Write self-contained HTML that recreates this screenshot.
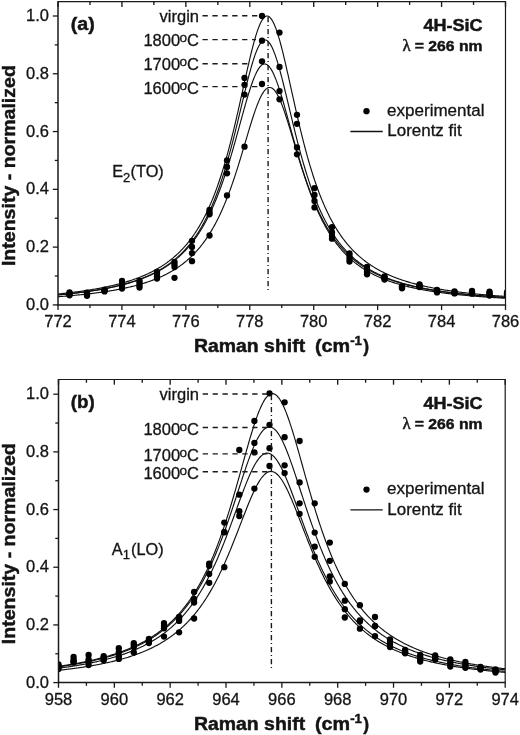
<!DOCTYPE html><html><head><meta charset="utf-8"><style>html,body{margin:0;padding:0;background:#fff;width:520px;height:735px;overflow:hidden}svg{display:block}text{font-family:'Liberation Sans', Arial, Helvetica, sans-serif;fill:#141414}.b{font-weight:bold;stroke:#141414;stroke-width:0.45}.r{stroke:#141414;stroke-width:0.3}</style></head><body>
<svg width="520" height="735" viewBox="0 0 520 735">
<rect width="520" height="735" fill="#fff"/>
<clipPath id="c0"><rect x="58.0" y="1.7" width="447.5" height="303.2"/></clipPath>
<g clip-path="url(#c0)">
<polyline points="58.00,293.98 58.90,293.89 59.79,293.80 60.68,293.70 61.58,293.61 62.47,293.51 63.37,293.42 64.27,293.32 65.16,293.22 66.05,293.12 66.95,293.02 67.84,292.92 68.74,292.81 69.64,292.71 70.53,292.60 71.42,292.50 72.32,292.39 73.21,292.28 74.11,292.16 75.01,292.05 75.90,291.93 76.79,291.82 77.69,291.70 78.59,291.58 79.48,291.46 80.38,291.33 81.27,291.21 82.16,291.08 83.06,290.96 83.96,290.83 84.85,290.69 85.75,290.56 86.64,290.42 87.53,290.29 88.43,290.15 89.33,290.01 90.22,289.86 91.11,289.72 92.01,289.57 92.90,289.42 93.80,289.27 94.70,289.12 95.59,288.96 96.48,288.80 97.38,288.64 98.27,288.48 99.17,288.31 100.07,288.14 100.96,287.97 101.85,287.80 102.75,287.62 103.64,287.45 104.54,287.27 105.44,287.08 106.33,286.90 107.22,286.71 108.12,286.51 109.02,286.32 109.91,286.12 110.81,285.92 111.70,285.71 112.59,285.51 113.49,285.29 114.39,285.08 115.28,284.86 116.18,284.64 117.07,284.41 117.96,284.19 118.86,283.95 119.76,283.72 120.65,283.48 121.55,283.23 122.44,282.98 123.33,282.73 124.23,282.47 125.13,282.21 126.02,281.95 126.91,281.67 127.81,281.40 128.70,281.12 129.60,280.84 130.50,280.55 131.39,280.25 132.28,279.95 133.18,279.65 134.07,279.33 134.97,279.02 135.87,278.70 136.76,278.37 137.65,278.03 138.55,277.69 139.45,277.35 140.34,276.99 141.24,276.64 142.13,276.27 143.02,275.90 143.92,275.52 144.82,275.13 145.71,274.73 146.61,274.33 147.50,273.92 148.39,273.50 149.29,273.08 150.19,272.64 151.08,272.20 151.98,271.75 152.87,271.29 153.76,270.82 154.66,270.34 155.56,269.85 156.45,269.35 157.34,268.84 158.24,268.32 159.13,267.79 160.03,267.25 160.93,266.69 161.82,266.13 162.71,265.55 163.61,264.96 164.50,264.36 165.40,263.75 166.30,263.12 167.19,262.48 168.08,261.82 168.98,261.15 169.88,260.46 170.77,259.76 171.67,259.05 172.56,258.32 173.45,257.57 174.35,256.80 175.25,256.02 176.14,255.22 177.04,254.40 177.93,253.56 178.82,252.71 179.72,251.83 180.62,250.93 181.51,250.01 182.41,249.07 183.30,248.11 184.19,247.12 185.09,246.11 185.99,245.08 186.88,244.02 187.77,242.93 188.67,241.82 189.56,240.68 190.46,239.51 191.36,238.31 192.25,237.09 193.14,235.83 194.04,234.54 194.93,233.22 195.83,231.87 196.73,230.48 197.62,229.06 198.51,227.60 199.41,226.10 200.30,224.56 201.20,222.99 202.10,221.37 202.99,219.72 203.88,218.02 204.78,216.28 205.68,214.49 206.57,212.65 207.47,210.77 208.36,208.84 209.25,206.86 210.15,204.83 211.05,202.75 211.94,200.61 212.84,198.42 213.73,196.18 214.62,193.87 215.52,191.51 216.42,189.09 217.31,186.61 218.20,184.06 219.10,181.46 219.99,178.79 220.89,176.05 221.79,173.25 222.68,170.39 223.57,167.46 224.47,164.46 225.36,161.39 226.26,158.26 227.16,155.06 228.05,151.79 228.94,148.46 229.84,145.06 230.73,141.60 231.63,138.07 232.53,134.48 233.42,130.83 234.31,127.12 235.21,123.36 236.11,119.54 237.00,115.68 237.90,111.77 238.79,107.83 239.68,103.85 240.58,99.84 241.48,95.81 242.37,91.77 243.27,87.71 244.16,83.66 245.05,79.62 245.95,75.60 246.85,71.61 247.74,67.66 248.64,63.76 249.53,59.93 250.42,56.17 251.32,52.50 252.22,48.93 253.11,45.47 254.00,42.15 254.90,38.97 255.79,35.94 256.69,33.08 257.59,30.40 258.48,27.92 259.37,25.65 260.27,23.59 261.16,21.76 262.06,20.18 262.96,18.83 263.85,17.74 264.74,16.91 265.64,16.35 266.54,16.05 267.43,16.02 268.33,16.26 269.22,16.77 270.11,17.54 271.01,18.58 271.91,19.87 272.80,21.40 273.70,23.18 274.59,25.19 275.48,27.42 276.38,29.86 277.28,32.49 278.17,35.31 279.07,38.30 279.96,41.45 280.85,44.75 281.75,48.18 282.65,51.72 283.54,55.37 284.43,59.11 285.33,62.93 286.22,66.82 287.12,70.76 288.02,74.74 288.91,78.76 289.80,82.80 290.70,86.85 291.59,90.90 292.49,94.94 293.39,98.98 294.28,102.99 295.17,106.98 296.07,110.93 296.96,114.85 297.86,118.72 298.76,122.54 299.65,126.32 300.54,130.04 301.44,133.70 302.34,137.30 303.23,140.84 304.13,144.32 305.02,147.74 305.91,151.08 306.81,154.37 307.71,157.58 308.60,160.73 309.50,163.81 310.39,166.82 311.28,169.77 312.18,172.65 313.08,175.46 313.97,178.21 314.86,180.89 315.76,183.51 316.65,186.07 317.55,188.56 318.45,191.00 319.34,193.37 320.23,195.69 321.13,197.95 322.02,200.15 322.92,202.30 323.82,204.39 324.71,206.43 325.60,208.42 326.50,210.36 327.39,212.26 328.29,214.10 329.19,215.90 330.08,217.65 330.97,219.36 331.87,221.02 332.77,222.65 333.66,224.23 334.56,225.77 335.45,227.28 336.34,228.75 337.24,230.18 338.14,231.57 339.03,232.93 339.93,234.26 340.82,235.56 341.71,236.82 342.61,238.05 343.51,239.26 344.40,240.43 345.30,241.58 346.19,242.69 347.08,243.78 347.98,244.85 348.88,245.89 349.77,246.91 350.66,247.90 351.56,248.87 352.45,249.81 353.35,250.74 354.25,251.64 355.14,252.52 356.03,253.38 356.93,254.22 357.82,255.05 358.72,255.85 359.62,256.64 360.51,257.41 361.40,258.16 362.30,258.89 363.20,259.61 364.09,260.32 364.99,261.00 365.88,261.68 366.77,262.34 367.67,262.98 368.57,263.61 369.46,264.23 370.36,264.83 371.25,265.43 372.14,266.00 373.04,266.57 373.94,267.13 374.83,267.67 375.73,268.21 376.62,268.73 377.51,269.24 378.41,269.74 379.31,270.23 380.20,270.71 381.09,271.19 381.99,271.65 382.88,272.10 383.78,272.55 384.68,272.99 385.57,273.41 386.46,273.83 387.36,274.24 388.25,274.65 389.15,275.04 390.05,275.43 390.94,275.82 391.83,276.19 392.73,276.56 393.62,276.92 394.52,277.27 395.42,277.62 396.31,277.96 397.20,278.30 398.10,278.63 399.00,278.95 399.89,279.27 400.79,279.58 401.68,279.89 402.57,280.19 403.47,280.48 404.37,280.77 405.26,281.06 406.16,281.34 407.05,281.62 407.94,281.89 408.84,282.15 409.74,282.42 410.63,282.68 411.52,282.93 412.42,283.18 413.31,283.42 414.21,283.66 415.11,283.90 416.00,284.14 416.89,284.37 417.79,284.59 418.68,284.81 419.58,285.03 420.48,285.25 421.37,285.46 422.26,285.67 423.16,285.87 424.05,286.08 424.95,286.28 425.85,286.47 426.74,286.66 427.63,286.86 428.53,287.04 429.43,287.23 430.32,287.41 431.22,287.59 432.11,287.76 433.00,287.94 433.90,288.11 434.80,288.28 435.69,288.44 436.59,288.61 437.48,288.77 438.37,288.93 439.27,289.08 440.17,289.24 441.06,289.39 441.95,289.54 442.85,289.69 443.74,289.83 444.64,289.98 445.54,290.12 446.43,290.26 447.32,290.40 448.22,290.53 449.11,290.66 450.01,290.80 450.91,290.93 451.80,291.06 452.69,291.18 453.59,291.31 454.48,291.43 455.38,291.55 456.28,291.67 457.17,291.79 458.06,291.91 458.96,292.02 459.86,292.14 460.75,292.25 461.65,292.36 462.54,292.47 463.43,292.58 464.33,292.69 465.23,292.79 466.12,292.90 467.02,293.00 467.91,293.10 468.80,293.20 469.70,293.30 470.60,293.40 471.49,293.49 472.39,293.59 473.28,293.68 474.17,293.78 475.07,293.87 475.97,293.96 476.86,294.05 477.75,294.14 478.65,294.23 479.54,294.31 480.44,294.40 481.34,294.48 482.23,294.56 483.12,294.65 484.02,294.73 484.91,294.81 485.81,294.89 486.71,294.97 487.60,295.05 488.49,295.12 489.39,295.20 490.29,295.27 491.18,295.35 492.08,295.42 492.97,295.49 493.86,295.56 494.76,295.64 495.66,295.71 496.55,295.78 497.45,295.84 498.34,295.91 499.23,295.98 500.13,296.04 501.03,296.11 501.92,296.18 502.82,296.24 503.71,296.30 504.60,296.37 505.50,296.43" fill="none" stroke="#111" stroke-width="1.15"/>
<polyline points="58.00,294.89 58.90,294.80 59.79,294.72 60.68,294.63 61.58,294.55 62.47,294.46 63.37,294.37 64.27,294.28 65.16,294.19 66.05,294.10 66.95,294.00 67.84,293.91 68.74,293.81 69.64,293.71 70.53,293.61 71.42,293.51 72.32,293.41 73.21,293.31 74.11,293.21 75.01,293.10 75.90,292.99 76.79,292.89 77.69,292.78 78.59,292.66 79.48,292.55 80.38,292.44 81.27,292.32 82.16,292.20 83.06,292.08 83.96,291.96 84.85,291.84 85.75,291.72 86.64,291.59 87.53,291.46 88.43,291.33 89.33,291.20 90.22,291.07 91.11,290.93 92.01,290.80 92.90,290.66 93.80,290.52 94.70,290.37 95.59,290.23 96.48,290.08 97.38,289.93 98.27,289.78 99.17,289.63 100.07,289.47 100.96,289.31 101.85,289.15 102.75,288.99 103.64,288.82 104.54,288.65 105.44,288.48 106.33,288.31 107.22,288.13 108.12,287.95 109.02,287.77 109.91,287.58 110.81,287.39 111.70,287.20 112.59,287.01 113.49,286.81 114.39,286.61 115.28,286.41 116.18,286.20 117.07,285.99 117.96,285.77 118.86,285.56 119.76,285.34 120.65,285.11 121.55,284.88 122.44,284.65 123.33,284.41 124.23,284.17 125.13,283.93 126.02,283.68 126.91,283.42 127.81,283.17 128.70,282.90 129.60,282.64 130.50,282.36 131.39,282.09 132.28,281.81 133.18,281.52 134.07,281.23 134.97,280.93 135.87,280.63 136.76,280.32 137.65,280.01 138.55,279.69 139.45,279.36 140.34,279.03 141.24,278.69 142.13,278.35 143.02,277.99 143.92,277.64 144.82,277.27 145.71,276.90 146.61,276.52 147.50,276.13 148.39,275.74 149.29,275.34 150.19,274.93 151.08,274.51 151.98,274.08 152.87,273.65 153.76,273.20 154.66,272.75 155.56,272.29 156.45,271.82 157.34,271.33 158.24,270.84 159.13,270.34 160.03,269.83 160.93,269.30 161.82,268.77 162.71,268.22 163.61,267.66 164.50,267.09 165.40,266.51 166.30,265.91 167.19,265.30 168.08,264.68 168.98,264.05 169.88,263.39 170.77,262.73 171.67,262.05 172.56,261.35 173.45,260.64 174.35,259.91 175.25,259.17 176.14,258.40 177.04,257.62 177.93,256.83 178.82,256.01 179.72,255.17 180.62,254.31 181.51,253.44 182.41,252.54 183.30,251.62 184.19,250.67 185.09,249.71 185.99,248.72 186.88,247.71 187.77,246.67 188.67,245.60 189.56,244.51 190.46,243.39 191.36,242.24 192.25,241.07 193.14,239.86 194.04,238.63 194.93,237.36 195.83,236.06 196.73,234.73 197.62,233.36 198.51,231.95 199.41,230.52 200.30,229.04 201.20,227.52 202.10,225.97 202.99,224.37 203.88,222.74 204.78,221.06 205.68,219.34 206.57,217.57 207.47,215.75 208.36,213.89 209.25,211.98 210.15,210.03 211.05,208.02 211.94,205.96 212.84,203.84 213.73,201.67 214.62,199.45 215.52,197.17 216.42,194.83 217.31,192.44 218.20,189.98 219.10,187.47 219.99,184.90 220.89,182.26 221.79,179.56 222.68,176.80 223.57,173.98 224.47,171.09 225.36,168.14 226.26,165.13 227.16,162.06 228.05,158.92 228.94,155.72 229.84,152.47 230.73,149.15 231.63,145.78 232.53,142.35 233.42,138.88 234.31,135.35 235.21,131.78 236.11,128.17 237.00,124.52 237.90,120.83 238.79,117.12 239.68,113.39 240.58,109.65 241.48,105.90 242.37,102.15 243.27,98.41 244.16,94.68 245.05,90.99 245.95,87.33 246.85,83.72 247.74,80.17 248.64,76.69 249.53,73.30 250.42,70.00 251.32,66.81 252.22,63.74 253.11,60.80 254.00,58.01 254.90,55.38 255.79,52.92 256.69,50.65 257.59,48.57 258.48,46.69 259.37,45.03 260.27,43.59 261.16,42.39 262.06,41.42 262.96,40.70 263.85,40.22 264.74,40.00 265.64,40.03 266.54,40.30 267.43,40.83 268.33,41.61 269.22,42.63 270.11,43.88 271.01,45.37 271.91,47.07 272.80,48.99 273.70,51.12 274.59,53.43 275.48,55.93 276.38,58.59 277.28,61.42 278.17,64.38 279.07,67.48 279.96,70.70 280.85,74.02 281.75,77.43 282.65,80.92 283.54,84.49 284.43,88.11 285.33,91.78 286.22,95.48 287.12,99.21 288.02,102.95 288.91,106.70 289.80,110.45 290.70,114.19 291.59,117.92 292.49,121.62 293.39,125.30 294.28,128.94 295.17,132.55 296.07,136.11 296.96,139.63 297.86,143.09 298.76,146.51 299.65,149.87 300.54,153.17 301.44,156.41 302.34,159.60 303.23,162.72 304.13,165.78 305.02,168.78 305.91,171.72 306.81,174.59 307.71,177.40 308.60,180.15 309.50,182.83 310.39,185.45 311.28,188.01 312.18,190.52 313.08,192.96 313.97,195.34 314.86,197.66 315.76,199.93 316.65,202.14 317.55,204.30 318.45,206.40 319.34,208.45 320.23,210.45 321.13,212.40 322.02,214.30 322.92,216.15 323.82,217.95 324.71,219.71 325.60,221.42 326.50,223.09 327.39,224.72 328.29,226.31 329.19,227.85 330.08,229.36 330.97,230.83 331.87,232.26 332.77,233.65 333.66,235.01 334.56,236.34 335.45,237.63 336.34,238.89 337.24,240.12 338.14,241.32 339.03,242.49 339.93,243.63 340.82,244.75 341.71,245.83 342.61,246.89 343.51,247.92 344.40,248.93 345.30,249.92 346.19,250.88 347.08,251.82 347.98,252.73 348.88,253.63 349.77,254.50 350.66,255.35 351.56,256.18 352.45,257.00 353.35,257.79 354.25,258.57 355.14,259.33 356.03,260.07 356.93,260.79 357.82,261.50 358.72,262.20 359.62,262.87 360.51,263.54 361.40,264.18 362.30,264.82 363.20,265.44 364.09,266.04 364.99,266.64 365.88,267.22 366.77,267.78 367.67,268.34 368.57,268.88 369.46,269.42 370.36,269.94 371.25,270.45 372.14,270.95 373.04,271.44 373.94,271.92 374.83,272.39 375.73,272.85 376.62,273.30 377.51,273.74 378.41,274.18 379.31,274.60 380.20,275.02 381.09,275.43 381.99,275.83 382.88,276.22 383.78,276.60 384.68,276.98 385.57,277.35 386.46,277.71 387.36,278.07 388.25,278.42 389.15,278.76 390.05,279.10 390.94,279.43 391.83,279.76 392.73,280.07 393.62,280.39 394.52,280.69 395.42,280.99 396.31,281.29 397.20,281.58 398.10,281.87 399.00,282.15 399.89,282.42 400.79,282.69 401.68,282.96 402.57,283.22 403.47,283.48 404.37,283.73 405.26,283.98 406.16,284.22 407.05,284.46 407.94,284.70 408.84,284.93 409.74,285.16 410.63,285.38 411.52,285.60 412.42,285.82 413.31,286.03 414.21,286.24 415.11,286.45 416.00,286.65 416.89,286.85 417.79,287.05 418.68,287.24 419.58,287.43 420.48,287.62 421.37,287.81 422.26,287.99 423.16,288.17 424.05,288.34 424.95,288.52 425.85,288.69 426.74,288.86 427.63,289.02 428.53,289.18 429.43,289.34 430.32,289.50 431.22,289.66 432.11,289.81 433.00,289.96 433.90,290.11 434.80,290.26 435.69,290.41 436.59,290.55 437.48,290.69 438.37,290.83 439.27,290.96 440.17,291.10 441.06,291.23 441.95,291.36 442.85,291.49 443.74,291.62 444.64,291.74 445.54,291.87 446.43,291.99 447.32,292.11 448.22,292.23 449.11,292.35 450.01,292.46 450.91,292.58 451.80,292.69 452.69,292.80 453.59,292.91 454.48,293.02 455.38,293.12 456.28,293.23 457.17,293.33 458.06,293.43 458.96,293.54 459.86,293.64 460.75,293.73 461.65,293.83 462.54,293.93 463.43,294.02 464.33,294.12 465.23,294.21 466.12,294.30 467.02,294.39 467.91,294.48 468.80,294.57 469.70,294.65 470.60,294.74 471.49,294.82 472.39,294.91 473.28,294.99 474.17,295.07 475.07,295.15 475.97,295.23 476.86,295.31 477.75,295.39 478.65,295.46 479.54,295.54 480.44,295.61 481.34,295.69 482.23,295.76 483.12,295.83 484.02,295.91 484.91,295.98 485.81,296.05 486.71,296.11 487.60,296.18 488.49,296.25 489.39,296.32 490.29,296.38 491.18,296.45 492.08,296.51 492.97,296.58 493.86,296.64 494.76,296.70 495.66,296.76 496.55,296.82 497.45,296.88 498.34,296.94 499.23,297.00 500.13,297.06 501.03,297.12 501.92,297.18 502.82,297.23 503.71,297.29 504.60,297.34 505.50,297.40" fill="none" stroke="#111" stroke-width="1.15"/>
<polyline points="58.00,294.96 58.90,294.88 59.79,294.80 60.68,294.71 61.58,294.63 62.47,294.54 63.37,294.45 64.27,294.36 65.16,294.27 66.05,294.18 66.95,294.09 67.84,293.99 68.74,293.90 69.64,293.80 70.53,293.70 71.42,293.60 72.32,293.50 73.21,293.40 74.11,293.30 75.01,293.19 75.90,293.09 76.79,292.98 77.69,292.87 78.59,292.76 79.48,292.65 80.38,292.54 81.27,292.42 82.16,292.31 83.06,292.19 83.96,292.07 84.85,291.95 85.75,291.82 86.64,291.70 87.53,291.57 88.43,291.45 89.33,291.32 90.22,291.18 91.11,291.05 92.01,290.91 92.90,290.78 93.80,290.64 94.70,290.50 95.59,290.35 96.48,290.21 97.38,290.06 98.27,289.91 99.17,289.76 100.07,289.60 100.96,289.44 101.85,289.28 102.75,289.12 103.64,288.96 104.54,288.79 105.44,288.62 106.33,288.45 107.22,288.28 108.12,288.10 109.02,287.92 109.91,287.74 110.81,287.55 111.70,287.36 112.59,287.17 113.49,286.97 114.39,286.78 115.28,286.58 116.18,286.37 117.07,286.16 117.96,285.95 118.86,285.74 119.76,285.52 120.65,285.30 121.55,285.07 122.44,284.84 123.33,284.61 124.23,284.37 125.13,284.13 126.02,283.88 126.91,283.63 127.81,283.38 128.70,283.12 129.60,282.86 130.50,282.59 131.39,282.32 132.28,282.04 133.18,281.76 134.07,281.47 134.97,281.18 135.87,280.88 136.76,280.58 137.65,280.27 138.55,279.95 139.45,279.63 140.34,279.31 141.24,278.98 142.13,278.64 143.02,278.29 143.92,277.94 144.82,277.58 145.71,277.22 146.61,276.84 147.50,276.47 148.39,276.08 149.29,275.68 150.19,275.28 151.08,274.87 151.98,274.45 152.87,274.03 153.76,273.59 154.66,273.15 155.56,272.69 156.45,272.23 157.34,271.76 158.24,271.28 159.13,270.79 160.03,270.29 160.93,269.77 161.82,269.25 162.71,268.72 163.61,268.17 164.50,267.61 165.40,267.04 166.30,266.46 167.19,265.87 168.08,265.26 168.98,264.64 169.88,264.01 170.77,263.36 171.67,262.70 172.56,262.02 173.45,261.33 174.35,260.62 175.25,259.89 176.14,259.15 177.04,258.39 177.93,257.62 178.82,256.83 179.72,256.01 180.62,255.18 181.51,254.33 182.41,253.46 183.30,252.57 184.19,251.66 185.09,250.73 185.99,249.77 186.88,248.79 187.77,247.79 188.67,246.77 189.56,245.71 190.46,244.64 191.36,243.53 192.25,242.40 193.14,241.25 194.04,240.06 194.93,238.84 195.83,237.60 196.73,236.32 197.62,235.01 198.51,233.67 199.41,232.30 200.30,230.89 201.20,229.45 202.10,227.97 202.99,226.45 203.88,224.90 204.78,223.30 205.68,221.67 206.57,220.00 207.47,218.28 208.36,216.53 209.25,214.73 210.15,212.88 211.05,210.99 211.94,209.06 212.84,207.08 213.73,205.05 214.62,202.97 215.52,200.84 216.42,198.66 217.31,196.43 218.20,194.15 219.10,191.82 219.99,189.44 220.89,187.01 221.79,184.52 222.68,181.98 223.57,179.39 224.47,176.74 225.36,174.05 226.26,171.30 227.16,168.50 228.05,165.65 228.94,162.76 229.84,159.81 230.73,156.83 231.63,153.80 232.53,150.72 233.42,147.62 234.31,144.47 235.21,141.30 236.11,138.09 237.00,134.87 237.90,131.62 238.79,128.37 239.68,125.10 240.58,121.83 241.48,118.57 242.37,115.32 243.27,112.09 244.16,108.88 245.05,105.72 245.95,102.59 246.85,99.52 247.74,96.51 248.64,93.57 249.53,90.72 250.42,87.95 251.32,85.29 252.22,82.75 253.11,80.32 254.00,78.03 254.90,75.88 255.79,73.89 256.69,72.05 257.59,70.38 258.48,68.90 259.37,67.59 260.27,66.48 261.16,65.57 262.06,64.85 262.96,64.35 263.85,64.05 264.74,63.96 265.64,64.08 266.54,64.41 267.43,64.94 268.33,65.69 269.22,66.63 270.11,67.77 271.01,69.10 271.91,70.61 272.80,72.30 273.70,74.16 274.59,76.18 275.48,78.35 276.38,80.66 277.28,83.10 278.17,85.67 279.07,88.34 279.96,91.12 280.85,93.99 281.75,96.93 282.65,99.95 283.54,103.03 284.43,106.17 285.33,109.34 286.22,112.55 287.12,115.78 288.02,119.04 288.91,122.30 289.80,125.57 290.70,128.83 291.59,132.09 292.49,135.33 293.39,138.55 294.28,141.75 295.17,144.92 296.07,148.06 296.96,151.17 297.86,154.23 298.76,157.26 299.65,160.24 300.54,163.17 301.44,166.06 302.34,168.90 303.23,171.69 304.13,174.43 305.02,177.12 305.91,179.76 306.81,182.34 307.71,184.88 308.60,187.36 309.50,189.78 310.39,192.16 311.28,194.48 312.18,196.75 313.08,198.98 313.97,201.15 314.86,203.27 315.76,205.34 316.65,207.36 317.55,209.34 318.45,211.27 319.34,213.15 320.23,214.99 321.13,216.78 322.02,218.53 322.92,220.24 323.82,221.91 324.71,223.53 325.60,225.12 326.50,226.67 327.39,228.18 328.29,229.66 329.19,231.09 330.08,232.50 330.97,233.87 331.87,235.20 332.77,236.51 333.66,237.78 334.56,239.02 335.45,240.23 336.34,241.41 337.24,242.57 338.14,243.69 339.03,244.79 339.93,245.87 340.82,246.91 341.71,247.94 342.61,248.94 343.51,249.91 344.40,250.86 345.30,251.79 346.19,252.70 347.08,253.59 347.98,254.46 348.88,255.30 349.77,256.13 350.66,256.94 351.56,257.73 352.45,258.50 353.35,259.26 354.25,260.00 355.14,260.72 356.03,261.43 356.93,262.12 357.82,262.79 358.72,263.45 359.62,264.10 360.51,264.73 361.40,265.35 362.30,265.95 363.20,266.55 364.09,267.13 364.99,267.69 365.88,268.25 366.77,268.79 367.67,269.33 368.57,269.85 369.46,270.36 370.36,270.86 371.25,271.35 372.14,271.83 373.04,272.30 373.94,272.76 374.83,273.21 375.73,273.65 376.62,274.09 377.51,274.51 378.41,274.93 379.31,275.34 380.20,275.74 381.09,276.13 381.99,276.52 382.88,276.90 383.78,277.27 384.68,277.63 385.57,277.99 386.46,278.34 387.36,278.69 388.25,279.02 389.15,279.35 390.05,279.68 390.94,280.00 391.83,280.31 392.73,280.62 393.62,280.92 394.52,281.22 395.42,281.51 396.31,281.80 397.20,282.08 398.10,282.36 399.00,282.63 399.89,282.90 400.79,283.16 401.68,283.42 402.57,283.67 403.47,283.92 404.37,284.16 405.26,284.40 406.16,284.64 407.05,284.87 407.94,285.10 408.84,285.33 409.74,285.55 410.63,285.77 411.52,285.98 412.42,286.19 413.31,286.40 414.21,286.60 415.11,286.80 416.00,287.00 416.89,287.20 417.79,287.39 418.68,287.58 419.58,287.76 420.48,287.94 421.37,288.12 422.26,288.30 423.16,288.48 424.05,288.65 424.95,288.82 425.85,288.98 426.74,289.15 427.63,289.31 428.53,289.47 429.43,289.62 430.32,289.78 431.22,289.93 432.11,290.08 433.00,290.23 433.90,290.37 434.80,290.52 435.69,290.66 436.59,290.80 437.48,290.93 438.37,291.07 439.27,291.20 440.17,291.33 441.06,291.46 441.95,291.59 442.85,291.72 443.74,291.84 444.64,291.96 445.54,292.09 446.43,292.20 447.32,292.32 448.22,292.44 449.11,292.55 450.01,292.67 450.91,292.78 451.80,292.89 452.69,293.00 453.59,293.10 454.48,293.21 455.38,293.31 456.28,293.42 457.17,293.52 458.06,293.62 458.96,293.72 459.86,293.81 460.75,293.91 461.65,294.00 462.54,294.10 463.43,294.19 464.33,294.28 465.23,294.37 466.12,294.46 467.02,294.55 467.91,294.64 468.80,294.72 469.70,294.81 470.60,294.89 471.49,294.98 472.39,295.06 473.28,295.14 474.17,295.22 475.07,295.30 475.97,295.38 476.86,295.45 477.75,295.53 478.65,295.60 479.54,295.68 480.44,295.75 481.34,295.82 482.23,295.90 483.12,295.97 484.02,296.04 484.91,296.11 485.81,296.17 486.71,296.24 487.60,296.31 488.49,296.38 489.39,296.44 490.29,296.51 491.18,296.57 492.08,296.63 492.97,296.69 493.86,296.76 494.76,296.82 495.66,296.88 496.55,296.94 497.45,297.00 498.34,297.06 499.23,297.11 500.13,297.17 501.03,297.23 501.92,297.28 502.82,297.34 503.71,297.39 504.60,297.45 505.50,297.50" fill="none" stroke="#111" stroke-width="1.15"/>
<polyline points="58.00,296.71 58.90,296.64 59.79,296.57 60.68,296.50 61.58,296.43 62.47,296.36 63.37,296.29 64.27,296.22 65.16,296.15 66.05,296.07 66.95,296.00 67.84,295.92 68.74,295.85 69.64,295.77 70.53,295.69 71.42,295.61 72.32,295.53 73.21,295.45 74.11,295.36 75.01,295.28 75.90,295.20 76.79,295.11 77.69,295.02 78.59,294.93 79.48,294.84 80.38,294.75 81.27,294.66 82.16,294.57 83.06,294.47 83.96,294.38 84.85,294.28 85.75,294.18 86.64,294.08 87.53,293.98 88.43,293.88 89.33,293.77 90.22,293.67 91.11,293.56 92.01,293.45 92.90,293.34 93.80,293.23 94.70,293.12 95.59,293.00 96.48,292.89 97.38,292.77 98.27,292.65 99.17,292.53 100.07,292.40 100.96,292.28 101.85,292.15 102.75,292.02 103.64,291.89 104.54,291.76 105.44,291.62 106.33,291.49 107.22,291.35 108.12,291.20 109.02,291.06 109.91,290.92 110.81,290.77 111.70,290.62 112.59,290.47 113.49,290.31 114.39,290.15 115.28,289.99 116.18,289.83 117.07,289.67 117.96,289.50 118.86,289.33 119.76,289.16 120.65,288.98 121.55,288.80 122.44,288.62 123.33,288.44 124.23,288.25 125.13,288.06 126.02,287.86 126.91,287.67 127.81,287.46 128.70,287.26 129.60,287.05 130.50,286.84 131.39,286.63 132.28,286.41 133.18,286.19 134.07,285.96 134.97,285.73 135.87,285.49 136.76,285.26 137.65,285.01 138.55,284.77 139.45,284.51 140.34,284.26 141.24,284.00 142.13,283.73 143.02,283.46 143.92,283.18 144.82,282.90 145.71,282.62 146.61,282.33 147.50,282.03 148.39,281.73 149.29,281.42 150.19,281.10 151.08,280.78 151.98,280.45 152.87,280.12 153.76,279.78 154.66,279.44 155.56,279.08 156.45,278.72 157.34,278.35 158.24,277.98 159.13,277.60 160.03,277.20 160.93,276.81 161.82,276.40 162.71,275.98 163.61,275.56 164.50,275.13 165.40,274.68 166.30,274.23 167.19,273.77 168.08,273.30 168.98,272.82 169.88,272.33 170.77,271.83 171.67,271.31 172.56,270.79 173.45,270.25 174.35,269.70 175.25,269.14 176.14,268.57 177.04,267.98 177.93,267.38 178.82,266.77 179.72,266.14 180.62,265.50 181.51,264.85 182.41,264.18 183.30,263.49 184.19,262.79 185.09,262.07 185.99,261.33 186.88,260.57 187.77,259.80 188.67,259.01 189.56,258.20 190.46,257.37 191.36,256.52 192.25,255.65 193.14,254.76 194.04,253.85 194.93,252.91 195.83,251.95 196.73,250.97 197.62,249.96 198.51,248.92 199.41,247.87 200.30,246.78 201.20,245.67 202.10,244.52 202.99,243.35 203.88,242.15 204.78,240.92 205.68,239.66 206.57,238.37 207.47,237.04 208.36,235.68 209.25,234.28 210.15,232.85 211.05,231.38 211.94,229.88 212.84,228.33 213.73,226.75 214.62,225.13 215.52,223.46 216.42,221.76 217.31,220.01 218.20,218.22 219.10,216.38 219.99,214.50 220.89,212.57 221.79,210.60 222.68,208.57 223.57,206.50 224.47,204.39 225.36,202.22 226.26,200.00 227.16,197.74 228.05,195.42 228.94,193.06 229.84,190.64 230.73,188.18 231.63,185.67 232.53,183.11 233.42,180.50 234.31,177.85 235.21,175.15 236.11,172.40 237.00,169.62 237.90,166.80 238.79,163.94 239.68,161.04 240.58,158.12 241.48,155.17 242.37,152.19 243.27,149.20 244.16,146.19 245.05,143.17 245.95,140.16 246.85,137.14 247.74,134.14 248.64,131.15 249.53,128.19 250.42,125.26 251.32,122.37 252.22,119.53 253.11,116.75 254.00,114.04 254.90,111.41 255.79,108.86 256.69,106.42 257.59,104.08 258.48,101.86 259.37,99.76 260.27,97.81 261.16,95.99 262.06,94.34 262.96,92.84 263.85,91.52 264.74,90.37 265.64,89.41 266.54,88.63 267.43,88.05 268.33,87.66 269.22,87.47 270.11,87.47 271.01,87.68 271.91,88.08 272.80,88.68 273.70,89.47 274.59,90.45 275.48,91.61 276.38,92.94 277.28,94.45 278.17,96.12 279.07,97.94 279.96,99.91 280.85,102.01 281.75,104.24 282.65,106.59 283.54,109.04 284.43,111.59 285.33,114.23 286.22,116.95 287.12,119.73 288.02,122.57 288.91,125.46 289.80,128.40 290.70,131.36 291.59,134.35 292.49,137.36 293.39,140.37 294.28,143.39 295.17,146.41 296.07,149.41 296.96,152.40 297.86,155.38 298.76,158.33 299.65,161.25 300.54,164.14 301.44,167.00 302.34,169.82 303.23,172.60 304.13,175.34 305.02,178.04 305.91,180.69 306.81,183.29 307.71,185.85 308.60,188.36 309.50,190.82 310.39,193.23 311.28,195.59 312.18,197.90 313.08,200.16 313.97,202.38 314.86,204.54 315.76,206.65 316.65,208.72 317.55,210.74 318.45,212.71 319.34,214.63 320.23,216.51 321.13,218.35 322.02,220.13 322.92,221.88 323.82,223.58 324.71,225.24 325.60,226.86 326.50,228.44 327.39,229.99 328.29,231.49 329.19,232.95 330.08,234.38 330.97,235.78 331.87,237.14 332.77,238.46 333.66,239.75 334.56,241.01 335.45,242.24 336.34,243.44 337.24,244.61 338.14,245.75 339.03,246.86 339.93,247.94 340.82,249.00 341.71,250.03 342.61,251.04 343.51,252.02 344.40,252.98 345.30,253.91 346.19,254.82 347.08,255.71 347.98,256.58 348.88,257.43 349.77,258.26 350.66,259.07 351.56,259.86 352.45,260.63 353.35,261.38 354.25,262.12 355.14,262.84 356.03,263.54 356.93,264.22 357.82,264.89 358.72,265.55 359.62,266.19 360.51,266.82 361.40,267.43 362.30,268.03 363.20,268.61 364.09,269.18 364.99,269.74 365.88,270.29 366.77,270.83 367.67,271.35 368.57,271.86 369.46,272.36 370.36,272.85 371.25,273.33 372.14,273.80 373.04,274.27 373.94,274.72 374.83,275.16 375.73,275.59 376.62,276.01 377.51,276.43 378.41,276.83 379.31,277.23 380.20,277.62 381.09,278.01 381.99,278.38 382.88,278.75 383.78,279.11 384.68,279.46 385.57,279.81 386.46,280.15 387.36,280.48 388.25,280.80 389.15,281.13 390.05,281.44 390.94,281.75 391.83,282.05 392.73,282.35 393.62,282.64 394.52,282.92 395.42,283.20 396.31,283.48 397.20,283.75 398.10,284.02 399.00,284.28 399.89,284.53 400.79,284.78 401.68,285.03 402.57,285.27 403.47,285.51 404.37,285.75 405.26,285.98 406.16,286.20 407.05,286.42 407.94,286.64 408.84,286.86 409.74,287.07 410.63,287.27 411.52,287.48 412.42,287.68 413.31,287.88 414.21,288.07 415.11,288.26 416.00,288.45 416.89,288.63 417.79,288.81 418.68,288.99 419.58,289.17 420.48,289.34 421.37,289.51 422.26,289.68 423.16,289.84 424.05,290.01 424.95,290.17 425.85,290.32 426.74,290.48 427.63,290.63 428.53,290.78 429.43,290.93 430.32,291.07 431.22,291.22 432.11,291.36 433.00,291.49 433.90,291.63 434.80,291.77 435.69,291.90 436.59,292.03 437.48,292.16 438.37,292.29 439.27,292.41 440.17,292.53 441.06,292.66 441.95,292.78 442.85,292.89 443.74,293.01 444.64,293.12 445.54,293.24 446.43,293.35 447.32,293.46 448.22,293.57 449.11,293.67 450.01,293.78 450.91,293.88 451.80,293.99 452.69,294.09 453.59,294.19 454.48,294.29 455.38,294.38 456.28,294.48 457.17,294.57 458.06,294.67 458.96,294.76 459.86,294.85 460.75,294.94 461.65,295.03 462.54,295.11 463.43,295.20 464.33,295.29 465.23,295.37 466.12,295.45 467.02,295.53 467.91,295.62 468.80,295.70 469.70,295.77 470.60,295.85 471.49,295.93 472.39,296.00 473.28,296.08 474.17,296.15 475.07,296.23 475.97,296.30 476.86,296.37 477.75,296.44 478.65,296.51 479.54,296.58 480.44,296.65 481.34,296.71 482.23,296.78 483.12,296.84 484.02,296.91 484.91,296.97 485.81,297.04 486.71,297.10 487.60,297.16 488.49,297.22 489.39,297.28 490.29,297.34 491.18,297.40 492.08,297.46 492.97,297.52 493.86,297.57 494.76,297.63 495.66,297.68 496.55,297.74 497.45,297.79 498.34,297.85 499.23,297.90 500.13,297.95 501.03,298.00 501.92,298.06 502.82,298.11 503.71,298.16 504.60,298.21 505.50,298.26" fill="none" stroke="#111" stroke-width="1.15"/>
<circle cx="69.5" cy="292.5" r="3.15" fill="#000"/>
<circle cx="69.5" cy="293.5" r="3.15" fill="#000"/>
<circle cx="69.5" cy="294.5" r="3.15" fill="#000"/>
<circle cx="69.5" cy="295.3" r="3.15" fill="#000"/>
<circle cx="87.0" cy="292.6" r="3.15" fill="#000"/>
<circle cx="87.0" cy="294.0" r="3.15" fill="#000"/>
<circle cx="87.0" cy="295.0" r="3.15" fill="#000"/>
<circle cx="87.0" cy="295.8" r="3.15" fill="#000"/>
<circle cx="104.5" cy="289.7" r="3.15" fill="#000"/>
<circle cx="104.5" cy="290.3" r="3.15" fill="#000"/>
<circle cx="104.5" cy="290.8" r="3.15" fill="#000"/>
<circle cx="104.5" cy="291.4" r="3.15" fill="#000"/>
<circle cx="122.0" cy="281.0" r="3.15" fill="#000"/>
<circle cx="122.0" cy="283.5" r="3.15" fill="#000"/>
<circle cx="122.0" cy="286.0" r="3.15" fill="#000"/>
<circle cx="122.0" cy="288.5" r="3.15" fill="#000"/>
<circle cx="139.5" cy="281.0" r="3.15" fill="#000"/>
<circle cx="139.5" cy="283.0" r="3.15" fill="#000"/>
<circle cx="139.5" cy="285.5" r="3.15" fill="#000"/>
<circle cx="139.5" cy="287.6" r="3.15" fill="#000"/>
<circle cx="157.0" cy="271.8" r="3.15" fill="#000"/>
<circle cx="157.0" cy="274.0" r="3.15" fill="#000"/>
<circle cx="157.0" cy="276.3" r="3.15" fill="#000"/>
<circle cx="157.0" cy="278.6" r="3.15" fill="#000"/>
<circle cx="174.5" cy="261.8" r="3.15" fill="#000"/>
<circle cx="174.5" cy="264.5" r="3.15" fill="#000"/>
<circle cx="174.5" cy="267.0" r="3.15" fill="#000"/>
<circle cx="174.5" cy="277.8" r="3.15" fill="#000"/>
<circle cx="192.0" cy="240.8" r="3.15" fill="#000"/>
<circle cx="192.0" cy="247.0" r="3.15" fill="#000"/>
<circle cx="192.0" cy="253.2" r="3.15" fill="#000"/>
<circle cx="192.0" cy="261.2" r="3.15" fill="#000"/>
<circle cx="209.5" cy="209.9" r="3.15" fill="#000"/>
<circle cx="209.5" cy="212.5" r="3.15" fill="#000"/>
<circle cx="209.5" cy="214.3" r="3.15" fill="#000"/>
<circle cx="209.5" cy="235.5" r="3.15" fill="#000"/>
<circle cx="227.0" cy="160.3" r="3.15" fill="#000"/>
<circle cx="227.0" cy="166.9" r="3.15" fill="#000"/>
<circle cx="227.0" cy="173.3" r="3.15" fill="#000"/>
<circle cx="227.0" cy="195.4" r="3.15" fill="#000"/>
<circle cx="244.5" cy="77.9" r="3.15" fill="#000"/>
<circle cx="244.5" cy="84.8" r="3.15" fill="#000"/>
<circle cx="244.5" cy="94.6" r="3.15" fill="#000"/>
<circle cx="244.5" cy="146.7" r="3.15" fill="#000"/>
<circle cx="262.0" cy="16.0" r="3.15" fill="#000"/>
<circle cx="262.0" cy="40.7" r="3.15" fill="#000"/>
<circle cx="262.0" cy="61.3" r="3.15" fill="#000"/>
<circle cx="262.0" cy="84.0" r="3.15" fill="#000"/>
<circle cx="279.5" cy="32.6" r="3.15" fill="#000"/>
<circle cx="279.5" cy="66.9" r="3.15" fill="#000"/>
<circle cx="279.5" cy="91.1" r="3.15" fill="#000"/>
<circle cx="279.5" cy="99.3" r="3.15" fill="#000"/>
<circle cx="297.0" cy="114.8" r="3.15" fill="#000"/>
<circle cx="297.0" cy="123.8" r="3.15" fill="#000"/>
<circle cx="297.0" cy="147.4" r="3.15" fill="#000"/>
<circle cx="297.0" cy="154.3" r="3.15" fill="#000"/>
<circle cx="314.5" cy="188.2" r="3.15" fill="#000"/>
<circle cx="314.5" cy="195.0" r="3.15" fill="#000"/>
<circle cx="314.5" cy="201.0" r="3.15" fill="#000"/>
<circle cx="314.5" cy="207.4" r="3.15" fill="#000"/>
<circle cx="332.0" cy="227.2" r="3.15" fill="#000"/>
<circle cx="332.0" cy="232.4" r="3.15" fill="#000"/>
<circle cx="332.0" cy="236.1" r="3.15" fill="#000"/>
<circle cx="332.0" cy="238.7" r="3.15" fill="#000"/>
<circle cx="349.5" cy="253.4" r="3.15" fill="#000"/>
<circle cx="349.5" cy="256.0" r="3.15" fill="#000"/>
<circle cx="349.5" cy="258.8" r="3.15" fill="#000"/>
<circle cx="349.5" cy="261.6" r="3.15" fill="#000"/>
<circle cx="367.0" cy="266.8" r="3.15" fill="#000"/>
<circle cx="367.0" cy="269.5" r="3.15" fill="#000"/>
<circle cx="367.0" cy="272.0" r="3.15" fill="#000"/>
<circle cx="367.0" cy="274.3" r="3.15" fill="#000"/>
<circle cx="384.5" cy="276.5" r="3.15" fill="#000"/>
<circle cx="384.5" cy="277.5" r="3.15" fill="#000"/>
<circle cx="384.5" cy="278.5" r="3.15" fill="#000"/>
<circle cx="384.5" cy="279.5" r="3.15" fill="#000"/>
<circle cx="402.0" cy="286.3" r="3.15" fill="#000"/>
<circle cx="402.0" cy="287.0" r="3.15" fill="#000"/>
<circle cx="402.0" cy="287.6" r="3.15" fill="#000"/>
<circle cx="402.0" cy="288.3" r="3.15" fill="#000"/>
<circle cx="419.5" cy="284.4" r="3.15" fill="#000"/>
<circle cx="419.5" cy="285.3" r="3.15" fill="#000"/>
<circle cx="419.5" cy="286.2" r="3.15" fill="#000"/>
<circle cx="419.5" cy="287.0" r="3.15" fill="#000"/>
<circle cx="437.0" cy="289.8" r="3.15" fill="#000"/>
<circle cx="437.0" cy="290.6" r="3.15" fill="#000"/>
<circle cx="437.0" cy="291.5" r="3.15" fill="#000"/>
<circle cx="437.0" cy="292.4" r="3.15" fill="#000"/>
<circle cx="454.5" cy="291.5" r="3.15" fill="#000"/>
<circle cx="454.5" cy="292.2" r="3.15" fill="#000"/>
<circle cx="454.5" cy="292.8" r="3.15" fill="#000"/>
<circle cx="454.5" cy="293.4" r="3.15" fill="#000"/>
<circle cx="472.0" cy="290.8" r="3.15" fill="#000"/>
<circle cx="472.0" cy="291.8" r="3.15" fill="#000"/>
<circle cx="472.0" cy="292.8" r="3.15" fill="#000"/>
<circle cx="472.0" cy="293.7" r="3.15" fill="#000"/>
<circle cx="489.5" cy="291.7" r="3.15" fill="#000"/>
<circle cx="489.5" cy="293.0" r="3.15" fill="#000"/>
<circle cx="489.5" cy="294.3" r="3.15" fill="#000"/>
<circle cx="489.5" cy="295.6" r="3.15" fill="#000"/>
<circle cx="507.0" cy="292.0" r="3.15" fill="#000"/>
<circle cx="507.0" cy="293.2" r="3.15" fill="#000"/>
<circle cx="507.0" cy="294.4" r="3.15" fill="#000"/>
<circle cx="507.0" cy="295.6" r="3.15" fill="#000"/>
</g>
<line x1="268.1" y1="17.0" x2="268.1" y2="291" stroke="#1a1a1a" stroke-width="1.4" stroke-dasharray="5.3 2.7 1.1 2.9"/>
<line x1="202.5" y1="15.8" x2="262" y2="15.8" stroke="#1a1a1a" stroke-width="1.4" stroke-dasharray="5.3 4.6"/>
<line x1="202.5" y1="39.6" x2="256" y2="39.6" stroke="#1a1a1a" stroke-width="1.4" stroke-dasharray="5.3 4.6"/>
<line x1="202.5" y1="63.7" x2="252" y2="63.7" stroke="#1a1a1a" stroke-width="1.4" stroke-dasharray="5.3 4.6"/>
<line x1="202.5" y1="86.6" x2="258" y2="86.6" stroke="#1a1a1a" stroke-width="1.4" stroke-dasharray="5.3 4.6"/>
<path d="M58.0,1.7 H505.5 V304.9" fill="none" stroke="#1a1a1a" stroke-width="1.2"/>
<line x1="58.0" y1="1.1" x2="58.0" y2="305.65" stroke="#1a1a1a" stroke-width="1.5"/>
<line x1="57.25" y1="304.9" x2="506.1" y2="304.9" stroke="#1a1a1a" stroke-width="1.5"/>
<line x1="58.00" y1="304.9" x2="58.00" y2="310.09999999999997" stroke="#1a1a1a" stroke-width="1.3"/>
<line x1="58.00" y1="1.7" x2="58.00" y2="6.9" stroke="#1a1a1a" stroke-width="1.35"/>
<text class="r" x="58.00" y="326.9" font-size="16.5" text-anchor="middle">772</text>
<line x1="89.96" y1="304.9" x2="89.96" y2="308.09999999999997" stroke="#1a1a1a" stroke-width="1.3"/>
<line x1="89.96" y1="1.7" x2="89.96" y2="4.9" stroke="#1a1a1a" stroke-width="1.35"/>
<line x1="121.93" y1="304.9" x2="121.93" y2="310.09999999999997" stroke="#1a1a1a" stroke-width="1.3"/>
<line x1="121.93" y1="1.7" x2="121.93" y2="6.9" stroke="#1a1a1a" stroke-width="1.35"/>
<text class="r" x="121.93" y="326.9" font-size="16.5" text-anchor="middle">774</text>
<line x1="153.89" y1="304.9" x2="153.89" y2="308.09999999999997" stroke="#1a1a1a" stroke-width="1.3"/>
<line x1="153.89" y1="1.7" x2="153.89" y2="4.9" stroke="#1a1a1a" stroke-width="1.35"/>
<line x1="185.86" y1="304.9" x2="185.86" y2="310.09999999999997" stroke="#1a1a1a" stroke-width="1.3"/>
<line x1="185.86" y1="1.7" x2="185.86" y2="6.9" stroke="#1a1a1a" stroke-width="1.35"/>
<text class="r" x="185.86" y="326.9" font-size="16.5" text-anchor="middle">776</text>
<line x1="217.82" y1="304.9" x2="217.82" y2="308.09999999999997" stroke="#1a1a1a" stroke-width="1.3"/>
<line x1="217.82" y1="1.7" x2="217.82" y2="4.9" stroke="#1a1a1a" stroke-width="1.35"/>
<line x1="249.79" y1="304.9" x2="249.79" y2="310.09999999999997" stroke="#1a1a1a" stroke-width="1.3"/>
<line x1="249.79" y1="1.7" x2="249.79" y2="6.9" stroke="#1a1a1a" stroke-width="1.35"/>
<text class="r" x="249.79" y="326.9" font-size="16.5" text-anchor="middle">778</text>
<line x1="281.75" y1="304.9" x2="281.75" y2="308.09999999999997" stroke="#1a1a1a" stroke-width="1.3"/>
<line x1="281.75" y1="1.7" x2="281.75" y2="4.9" stroke="#1a1a1a" stroke-width="1.35"/>
<line x1="313.71" y1="304.9" x2="313.71" y2="310.09999999999997" stroke="#1a1a1a" stroke-width="1.3"/>
<line x1="313.71" y1="1.7" x2="313.71" y2="6.9" stroke="#1a1a1a" stroke-width="1.35"/>
<text class="r" x="313.71" y="326.9" font-size="16.5" text-anchor="middle">780</text>
<line x1="345.68" y1="304.9" x2="345.68" y2="308.09999999999997" stroke="#1a1a1a" stroke-width="1.3"/>
<line x1="345.68" y1="1.7" x2="345.68" y2="4.9" stroke="#1a1a1a" stroke-width="1.35"/>
<line x1="377.64" y1="304.9" x2="377.64" y2="310.09999999999997" stroke="#1a1a1a" stroke-width="1.3"/>
<line x1="377.64" y1="1.7" x2="377.64" y2="6.9" stroke="#1a1a1a" stroke-width="1.35"/>
<text class="r" x="377.64" y="326.9" font-size="16.5" text-anchor="middle">782</text>
<line x1="409.61" y1="304.9" x2="409.61" y2="308.09999999999997" stroke="#1a1a1a" stroke-width="1.3"/>
<line x1="409.61" y1="1.7" x2="409.61" y2="4.9" stroke="#1a1a1a" stroke-width="1.35"/>
<line x1="441.57" y1="304.9" x2="441.57" y2="310.09999999999997" stroke="#1a1a1a" stroke-width="1.3"/>
<line x1="441.57" y1="1.7" x2="441.57" y2="6.9" stroke="#1a1a1a" stroke-width="1.35"/>
<text class="r" x="441.57" y="326.9" font-size="16.5" text-anchor="middle">784</text>
<line x1="473.54" y1="304.9" x2="473.54" y2="308.09999999999997" stroke="#1a1a1a" stroke-width="1.3"/>
<line x1="473.54" y1="1.7" x2="473.54" y2="4.9" stroke="#1a1a1a" stroke-width="1.35"/>
<line x1="505.50" y1="304.9" x2="505.50" y2="310.09999999999997" stroke="#1a1a1a" stroke-width="1.3"/>
<line x1="505.50" y1="1.7" x2="505.50" y2="6.9" stroke="#1a1a1a" stroke-width="1.35"/>
<text class="r" x="505.50" y="326.9" font-size="16.5" text-anchor="middle">786</text>
<line x1="52.8" y1="304.90" x2="58.0" y2="304.90" stroke="#1a1a1a" stroke-width="1.3"/>
<text class="r" x="49.0" y="309.90" font-size="16.5" text-anchor="end">0.0</text>
<line x1="54.8" y1="276.01" x2="58.0" y2="276.01" stroke="#1a1a1a" stroke-width="1.3"/>
<line x1="52.8" y1="247.12" x2="58.0" y2="247.12" stroke="#1a1a1a" stroke-width="1.3"/>
<text class="r" x="49.0" y="252.12" font-size="16.5" text-anchor="end">0.2</text>
<line x1="54.8" y1="218.23" x2="58.0" y2="218.23" stroke="#1a1a1a" stroke-width="1.3"/>
<line x1="52.8" y1="189.34" x2="58.0" y2="189.34" stroke="#1a1a1a" stroke-width="1.3"/>
<text class="r" x="49.0" y="194.34" font-size="16.5" text-anchor="end">0.4</text>
<line x1="54.8" y1="160.45" x2="58.0" y2="160.45" stroke="#1a1a1a" stroke-width="1.3"/>
<line x1="52.8" y1="131.56" x2="58.0" y2="131.56" stroke="#1a1a1a" stroke-width="1.3"/>
<text class="r" x="49.0" y="136.56" font-size="16.5" text-anchor="end">0.6</text>
<line x1="54.8" y1="102.67" x2="58.0" y2="102.67" stroke="#1a1a1a" stroke-width="1.3"/>
<line x1="52.8" y1="73.78" x2="58.0" y2="73.78" stroke="#1a1a1a" stroke-width="1.3"/>
<text class="r" x="49.0" y="78.78" font-size="16.5" text-anchor="end">0.8</text>
<line x1="54.8" y1="44.89" x2="58.0" y2="44.89" stroke="#1a1a1a" stroke-width="1.3"/>
<line x1="52.8" y1="16.00" x2="58.0" y2="16.00" stroke="#1a1a1a" stroke-width="1.3"/>
<text class="r" x="49.0" y="21.00" font-size="16.5" text-anchor="end">1.0</text>
<text class="b" x="70.7" y="29.9" font-size="18.9" textLength="24.0" lengthAdjust="spacingAndGlyphs">(a)</text>
<text class="b" x="423.4" y="30.9" font-size="16.9" textLength="59.2" lengthAdjust="spacingAndGlyphs">4H-SiC</text>
<text class="r" x="402.6" y="50.9" font-size="16.8" style="font-family:'Liberation Serif',serif;stroke-width:0.5">λ</text>
<text class="b" x="414.8" y="50.9" font-size="14.7" textLength="67.7" lengthAdjust="spacingAndGlyphs">= 266 nm</text>
<text class="r" x="387.1" y="115.8" font-size="16.3" textLength="97.4" lengthAdjust="spacingAndGlyphs">experimental</text>
<text class="r" x="387.3" y="136.3" font-size="16.3" textLength="74.4" lengthAdjust="spacingAndGlyphs">Lorentz fit</text>
<circle cx="366.5" cy="111.2" r="3.15" fill="#000"/>
<line x1="350.4" y1="131.5" x2="382.7" y2="131.5" stroke="#111" stroke-width="1.3"/>
<text class="b" transform="translate(193.9,351.50) scale(1.105,1)" font-size="17.6">Raman shift</text>
<text class="b" transform="translate(314.9,351.50) scale(1.124,1)" font-size="17.6">(cm</text>
<text class="b" x="350.2" y="344.70" font-size="13.3">-1</text>
<text class="b" x="363.2" y="351.50" font-size="17.6">)</text>
<text class="b" transform="translate(14.8,165.6) rotate(-90)" font-size="18.8" text-anchor="middle" textLength="201" lengthAdjust="spacingAndGlyphs">Intensity - normalized</text>
<text class="r" x="112.2" y="177.4" font-size="16.3">E<tspan font-size="13" dy="4.7">2</tspan><tspan dy="-4.7" dx="0.3">(TO)</tspan></text>
<text class="r" x="199.0" y="22.2" font-size="16.5" text-anchor="end">virgin</text>
<text class="r" x="199.0" y="46.2" font-size="16.5" text-anchor="end">1800<tspan font-size="13.6" dy="-3.9" dx="-0.6">o</tspan><tspan dy="3.9">C</tspan></text>
<text class="r" x="199.0" y="69.9" font-size="16.5" text-anchor="end">1700<tspan font-size="13.6" dy="-3.9" dx="-0.6">o</tspan><tspan dy="3.9">C</tspan></text>
<text class="r" x="199.0" y="93.5" font-size="16.5" text-anchor="end">1600<tspan font-size="13.6" dy="-3.9" dx="-0.6">o</tspan><tspan dy="3.9">C</tspan></text>
<clipPath id="c1"><rect x="58.5" y="379.5" width="446.7" height="303.1"/></clipPath>
<g clip-path="url(#c1)">
<polyline points="58.50,666.34 59.39,666.21 60.29,666.08 61.18,665.95 62.07,665.81 62.97,665.68 63.86,665.54 64.75,665.40 65.65,665.26 66.54,665.12 67.43,664.98 68.33,664.83 69.22,664.69 70.11,664.54 71.01,664.39 71.90,664.23 72.79,664.08 73.69,663.92 74.58,663.77 75.47,663.61 76.37,663.44 77.26,663.28 78.15,663.11 79.05,662.95 79.94,662.77 80.83,662.60 81.73,662.43 82.62,662.25 83.52,662.07 84.41,661.89 85.30,661.71 86.20,661.52 87.09,661.33 87.98,661.14 88.88,660.95 89.77,660.75 90.66,660.55 91.56,660.35 92.45,660.14 93.34,659.94 94.24,659.73 95.13,659.51 96.02,659.30 96.92,659.08 97.81,658.86 98.70,658.63 99.60,658.41 100.49,658.18 101.38,657.94 102.28,657.70 103.17,657.46 104.06,657.22 104.96,656.97 105.85,656.72 106.74,656.47 107.64,656.21 108.53,655.95 109.42,655.68 110.32,655.41 111.21,655.14 112.10,654.86 113.00,654.58 113.89,654.29 114.78,654.00 115.68,653.71 116.57,653.41 117.46,653.10 118.36,652.80 119.25,652.48 120.14,652.17 121.04,651.85 121.93,651.52 122.82,651.19 123.72,650.85 124.61,650.51 125.50,650.16 126.40,649.81 127.29,649.45 128.19,649.08 129.08,648.71 129.97,648.34 130.87,647.95 131.76,647.57 132.65,647.17 133.55,646.77 134.44,646.36 135.33,645.95 136.23,645.53 137.12,645.10 138.01,644.67 138.91,644.23 139.80,643.78 140.69,643.32 141.59,642.85 142.48,642.38 143.37,641.90 144.27,641.41 145.16,640.92 146.05,640.41 146.95,639.90 147.84,639.37 148.73,638.84 149.63,638.30 150.52,637.75 151.41,637.19 152.31,636.62 153.20,636.04 154.09,635.45 154.99,634.85 155.88,634.23 156.77,633.61 157.67,632.98 158.56,632.33 159.45,631.67 160.35,631.00 161.24,630.32 162.13,629.62 163.03,628.92 163.92,628.20 164.81,627.46 165.71,626.71 166.60,625.95 167.49,625.17 168.39,624.38 169.28,623.58 170.18,622.75 171.07,621.92 171.96,621.06 172.86,620.19 173.75,619.30 174.64,618.40 175.54,617.48 176.43,616.54 177.32,615.58 178.22,614.60 179.11,613.61 180.00,612.59 180.90,611.55 181.79,610.50 182.68,609.42 183.58,608.32 184.47,607.20 185.36,606.05 186.26,604.88 187.15,603.69 188.04,602.48 188.94,601.24 189.83,599.97 190.72,598.68 191.62,597.37 192.51,596.02 193.40,594.65 194.30,593.25 195.19,591.83 196.08,590.37 196.98,588.89 197.87,587.37 198.76,585.82 199.66,584.24 200.55,582.63 201.44,580.99 202.34,579.31 203.23,577.60 204.12,575.86 205.02,574.08 205.91,572.26 206.80,570.41 207.70,568.52 208.59,566.59 209.48,564.63 210.38,562.62 211.27,560.58 212.16,558.50 213.06,556.38 213.95,554.21 214.85,552.01 215.74,549.77 216.63,547.48 217.53,545.15 218.42,542.78 219.31,540.37 220.21,537.92 221.10,535.42 221.99,532.88 222.89,530.30 223.78,527.68 224.67,525.02 225.57,522.31 226.46,519.56 227.35,516.78 228.25,513.95 229.14,511.09 230.03,508.19 230.93,505.25 231.82,502.28 232.71,499.28 233.61,496.24 234.50,493.17 235.39,490.08 236.29,486.96 237.18,483.82 238.07,480.66 238.97,477.48 239.86,474.29 240.75,471.09 241.65,467.88 242.54,464.67 243.43,461.46 244.33,458.26 245.22,455.07 246.11,451.89 247.01,448.73 247.90,445.60 248.79,442.51 249.69,439.45 250.58,436.43 251.47,433.46 252.37,430.55 253.26,427.71 254.15,424.93 255.05,422.23 255.94,419.61 256.83,417.08 257.73,414.65 258.62,412.32 259.52,410.10 260.41,408.00 261.30,406.02 262.20,404.17 263.09,402.45 263.98,400.87 264.88,399.44 265.77,398.15 266.66,397.02 267.56,396.05 268.45,395.23 269.34,394.58 270.24,394.10 271.13,393.78 272.02,393.64 272.92,393.66 273.81,393.85 274.70,394.20 275.60,394.73 276.49,395.42 277.38,396.27 278.28,397.29 279.17,398.46 280.06,399.78 280.96,401.25 281.85,402.87 282.74,404.62 283.64,406.50 284.53,408.51 285.42,410.65 286.32,412.89 287.21,415.25 288.10,417.71 289.00,420.26 289.89,422.90 290.78,425.62 291.68,428.41 292.57,431.28 293.46,434.20 294.36,437.18 295.25,440.21 296.14,443.28 297.04,446.38 297.93,449.52 298.82,452.68 299.72,455.86 300.61,459.06 301.50,462.26 302.40,465.47 303.29,468.68 304.18,471.89 305.08,475.09 305.97,478.28 306.87,481.45 307.76,484.61 308.65,487.74 309.55,490.86 310.44,493.94 311.33,497.00 312.23,500.03 313.12,503.03 314.01,505.99 314.91,508.92 315.80,511.81 316.69,514.66 317.59,517.48 318.48,520.26 319.37,522.99 320.27,525.69 321.16,528.34 322.05,530.95 322.95,533.52 323.84,536.05 324.73,538.54 325.63,540.98 326.52,543.38 327.41,545.74 328.31,548.06 329.20,550.33 330.09,552.57 330.99,554.76 331.88,556.91 332.77,559.02 333.67,561.10 334.56,563.13 335.45,565.12 336.35,567.08 337.24,568.99 338.13,570.87 339.03,572.72 339.92,574.52 340.81,576.30 341.71,578.03 342.60,579.73 343.49,581.40 344.39,583.04 345.28,584.64 346.17,586.21 347.07,587.75 347.96,589.26 348.85,590.74 349.75,592.19 350.64,593.61 351.54,595.00 352.43,596.36 353.32,597.70 354.22,599.01 355.11,600.29 356.00,601.55 356.90,602.78 357.79,603.99 358.68,605.18 359.58,606.34 360.47,607.48 361.36,608.60 362.26,609.69 363.15,610.76 364.04,611.81 364.94,612.85 365.83,613.86 366.72,614.85 367.62,615.82 368.51,616.78 369.40,617.71 370.30,618.63 371.19,619.53 372.08,620.41 372.98,621.28 373.87,622.13 374.76,622.96 375.66,623.78 376.55,624.58 377.44,625.37 378.34,626.14 379.23,626.90 380.12,627.65 381.02,628.38 381.91,629.09 382.80,629.80 383.70,630.49 384.59,631.17 385.48,631.84 386.38,632.49 387.27,633.14 388.16,633.77 389.06,634.39 389.95,635.00 390.84,635.60 391.74,636.18 392.63,636.76 393.52,637.33 394.42,637.89 395.31,638.44 396.21,638.98 397.10,639.51 397.99,640.03 398.89,640.54 399.78,641.04 400.67,641.54 401.57,642.02 402.46,642.50 403.35,642.97 404.25,643.43 405.14,643.89 406.03,644.34 406.93,644.78 407.82,645.21 408.71,645.64 409.61,646.05 410.50,646.47 411.39,646.87 412.29,647.27 413.18,647.66 414.07,648.05 414.97,648.43 415.86,648.81 416.75,649.17 417.65,649.54 418.54,649.89 419.43,650.25 420.33,650.59 421.22,650.93 422.11,651.27 423.01,651.60 423.90,651.93 424.79,652.25 425.69,652.56 426.58,652.87 427.47,653.18 428.37,653.48 429.26,653.78 430.15,654.07 431.05,654.36 431.94,654.65 432.83,654.93 433.73,655.21 434.62,655.48 435.51,655.75 436.41,656.01 437.30,656.27 438.20,656.53 439.09,656.78 439.98,657.03 440.88,657.28 441.77,657.52 442.66,657.76 443.56,658.00 444.45,658.23 445.34,658.46 446.24,658.69 447.13,658.91 448.02,659.13 448.92,659.35 449.81,659.57 450.70,659.78 451.60,659.99 452.49,660.20 453.38,660.40 454.28,660.60 455.17,660.80 456.06,660.99 456.96,661.19 457.85,661.38 458.74,661.57 459.64,661.75 460.53,661.94 461.42,662.12 462.32,662.29 463.21,662.47 464.10,662.65 465.00,662.82 465.89,662.99 466.78,663.16 467.68,663.32 468.57,663.48 469.46,663.65 470.36,663.81 471.25,663.96 472.14,664.12 473.04,664.27 473.93,664.42 474.82,664.57 475.72,664.72 476.61,664.87 477.50,665.01 478.40,665.16 479.29,665.30 480.18,665.44 481.08,665.58 481.97,665.71 482.87,665.85 483.76,665.98 484.65,666.11 485.55,666.24 486.44,666.37 487.33,666.50 488.23,666.62 489.12,666.75 490.01,666.87 490.91,666.99 491.80,667.11 492.69,667.23 493.59,667.35 494.48,667.46 495.37,667.58 496.27,667.69 497.16,667.80 498.05,667.91 498.95,668.02 499.84,668.13 500.73,668.24 501.63,668.35 502.52,668.45 503.41,668.56 504.31,668.66 505.20,668.76" fill="none" stroke="#111" stroke-width="1.15"/>
<polyline points="58.50,666.87 59.39,666.74 60.29,666.62 61.18,666.49 62.07,666.36 62.97,666.23 63.86,666.09 64.75,665.96 65.65,665.82 66.54,665.68 67.43,665.54 68.33,665.40 69.22,665.26 70.11,665.11 71.01,664.97 71.90,664.82 72.79,664.67 73.69,664.51 74.58,664.36 75.47,664.20 76.37,664.05 77.26,663.88 78.15,663.72 79.05,663.56 79.94,663.39 80.83,663.22 81.73,663.05 82.62,662.88 83.52,662.70 84.41,662.53 85.30,662.35 86.20,662.16 87.09,661.98 87.98,661.79 88.88,661.60 89.77,661.41 90.66,661.22 91.56,661.02 92.45,660.82 93.34,660.62 94.24,660.41 95.13,660.20 96.02,659.99 96.92,659.78 97.81,659.56 98.70,659.34 99.60,659.12 100.49,658.89 101.38,658.66 102.28,658.43 103.17,658.20 104.06,657.96 104.96,657.71 105.85,657.47 106.74,657.22 107.64,656.97 108.53,656.71 109.42,656.45 110.32,656.19 111.21,655.92 112.10,655.65 113.00,655.37 113.89,655.09 114.78,654.81 115.68,654.52 116.57,654.22 117.46,653.93 118.36,653.63 119.25,653.32 120.14,653.01 121.04,652.69 121.93,652.37 122.82,652.05 123.72,651.72 124.61,651.38 125.50,651.04 126.40,650.69 127.29,650.34 128.19,649.99 129.08,649.62 129.97,649.25 130.87,648.88 131.76,648.50 132.65,648.11 133.55,647.72 134.44,647.32 135.33,646.91 136.23,646.50 137.12,646.08 138.01,645.65 138.91,645.22 139.80,644.78 140.69,644.33 141.59,643.88 142.48,643.41 143.37,642.94 144.27,642.46 145.16,641.98 146.05,641.48 146.95,640.98 147.84,640.46 148.73,639.94 149.63,639.41 150.52,638.87 151.41,638.32 152.31,637.76 153.20,637.19 154.09,636.61 154.99,636.02 155.88,635.42 156.77,634.81 157.67,634.19 158.56,633.56 159.45,632.91 160.35,632.26 161.24,631.59 162.13,630.91 163.03,630.21 163.92,629.51 164.81,628.79 165.71,628.06 166.60,627.31 167.49,626.55 168.39,625.77 169.28,624.99 170.18,624.18 171.07,623.36 171.96,622.53 172.86,621.68 173.75,620.81 174.64,619.93 175.54,619.02 176.43,618.11 177.32,617.17 178.22,616.22 179.11,615.24 180.00,614.25 180.90,613.24 181.79,612.21 182.68,611.16 183.58,610.09 184.47,609.00 185.36,607.88 186.26,606.75 187.15,605.59 188.04,604.41 188.94,603.21 189.83,601.98 190.72,600.73 191.62,599.45 192.51,598.15 193.40,596.82 194.30,595.47 195.19,594.09 196.08,592.68 196.98,591.25 197.87,589.78 198.76,588.29 199.66,586.77 200.55,585.22 201.44,583.64 202.34,582.03 203.23,580.39 204.12,578.72 205.02,577.01 205.91,575.28 206.80,573.51 207.70,571.71 208.59,569.87 209.48,568.00 210.38,566.10 211.27,564.16 212.16,562.19 213.06,560.18 213.95,558.14 214.85,556.07 215.74,553.96 216.63,551.81 217.53,549.63 218.42,547.41 219.31,545.16 220.21,542.88 221.10,540.56 221.99,538.21 222.89,535.82 223.78,533.40 224.67,530.95 225.57,528.47 226.46,525.96 227.35,523.42 228.25,520.86 229.14,518.26 230.03,515.65 230.93,513.00 231.82,510.34 232.71,507.66 233.61,504.96 234.50,502.25 235.39,499.52 236.29,496.78 237.18,494.04 238.07,491.29 238.97,488.54 239.86,485.80 240.75,483.06 241.65,480.33 242.54,477.62 243.43,474.93 244.33,472.25 245.22,469.61 246.11,467.00 247.01,464.42 247.90,461.89 248.79,459.40 249.69,456.97 250.58,454.60 251.47,452.28 252.37,450.04 253.26,447.87 254.15,445.78 255.05,443.77 255.94,441.86 256.83,440.04 257.73,438.32 258.62,436.70 259.52,435.19 260.41,433.80 261.30,432.53 262.20,431.38 263.09,430.35 263.98,429.45 264.88,428.69 265.77,428.05 266.66,427.56 267.56,427.20 268.45,426.98 269.34,426.90 270.24,426.97 271.13,427.17 272.02,427.51 272.92,427.99 273.81,428.60 274.70,429.35 275.60,430.23 276.49,431.24 277.38,432.38 278.28,433.64 279.17,435.01 280.06,436.51 280.96,438.11 281.85,439.82 282.74,441.62 283.64,443.53 284.53,445.52 285.42,447.60 286.32,449.76 287.21,452.00 288.10,454.30 289.00,456.67 289.89,459.10 290.78,461.58 291.68,464.10 292.57,466.67 293.46,469.28 294.36,471.92 295.25,474.59 296.14,477.28 297.04,479.99 297.93,482.72 298.82,485.46 299.72,488.20 300.61,490.95 301.50,493.70 302.40,496.44 303.29,499.18 304.18,501.91 305.08,504.62 305.97,507.32 306.87,510.01 307.76,512.67 308.65,515.32 309.55,517.94 310.44,520.53 311.33,523.10 312.23,525.65 313.12,528.16 314.01,530.65 314.91,533.10 315.80,535.52 316.69,537.91 317.59,540.27 318.48,542.59 319.37,544.88 320.27,547.13 321.16,549.35 322.05,551.54 322.95,553.69 323.84,555.81 324.73,557.89 325.63,559.93 326.52,561.94 327.41,563.92 328.31,565.86 329.20,567.77 330.09,569.64 330.99,571.48 331.88,573.29 332.77,575.06 333.67,576.80 334.56,578.51 335.45,580.18 336.35,581.83 337.24,583.44 338.13,585.03 339.03,586.58 339.92,588.10 340.81,589.60 341.71,591.07 342.60,592.50 343.49,593.91 344.39,595.30 345.28,596.65 346.17,597.98 347.07,599.29 347.96,600.57 348.85,601.82 349.75,603.05 350.64,604.26 351.54,605.44 352.43,606.61 353.32,607.74 354.22,608.86 355.11,609.95 356.00,611.03 356.90,612.08 357.79,613.11 358.68,614.13 359.58,615.12 360.47,616.10 361.36,617.05 362.26,617.99 363.15,618.91 364.04,619.81 364.94,620.70 365.83,621.57 366.72,622.42 367.62,623.26 368.51,624.08 369.40,624.89 370.30,625.68 371.19,626.45 372.08,627.21 372.98,627.96 373.87,628.70 374.76,629.42 375.66,630.13 376.55,630.82 377.44,631.50 378.34,632.17 379.23,632.83 380.12,633.48 381.02,634.11 381.91,634.74 382.80,635.35 383.70,635.95 384.59,636.54 385.48,637.12 386.38,637.69 387.27,638.25 388.16,638.80 389.06,639.34 389.95,639.88 390.84,640.40 391.74,640.91 392.63,641.42 393.52,641.92 394.42,642.40 395.31,642.88 396.21,643.36 397.10,643.82 397.99,644.28 398.89,644.73 399.78,645.17 400.67,645.60 401.57,646.03 402.46,646.45 403.35,646.86 404.25,647.27 405.14,647.67 406.03,648.06 406.93,648.45 407.82,648.83 408.71,649.21 409.61,649.58 410.50,649.94 411.39,650.30 412.29,650.65 413.18,651.00 414.07,651.34 414.97,651.67 415.86,652.01 416.75,652.33 417.65,652.65 418.54,652.97 419.43,653.28 420.33,653.59 421.22,653.89 422.11,654.19 423.01,654.48 423.90,654.77 424.79,655.05 425.69,655.34 426.58,655.61 427.47,655.88 428.37,656.15 429.26,656.42 430.15,656.68 431.05,656.94 431.94,657.19 432.83,657.44 433.73,657.68 434.62,657.93 435.51,658.17 436.41,658.40 437.30,658.64 438.20,658.86 439.09,659.09 439.98,659.31 440.88,659.53 441.77,659.75 442.66,659.97 443.56,660.18 444.45,660.39 445.34,660.59 446.24,660.79 447.13,660.99 448.02,661.19 448.92,661.39 449.81,661.58 450.70,661.77 451.60,661.96 452.49,662.14 453.38,662.32 454.28,662.50 455.17,662.68 456.06,662.86 456.96,663.03 457.85,663.20 458.74,663.37 459.64,663.54 460.53,663.70 461.42,663.86 462.32,664.03 463.21,664.18 464.10,664.34 465.00,664.49 465.89,664.65 466.78,664.80 467.68,664.95 468.57,665.09 469.46,665.24 470.36,665.38 471.25,665.53 472.14,665.67 473.04,665.80 473.93,665.94 474.82,666.08 475.72,666.21 476.61,666.34 477.50,666.47 478.40,666.60 479.29,666.73 480.18,666.86 481.08,666.98 481.97,667.10 482.87,667.22 483.76,667.34 484.65,667.46 485.55,667.58 486.44,667.70 487.33,667.81 488.23,667.93 489.12,668.04 490.01,668.15 490.91,668.26 491.80,668.37 492.69,668.47 493.59,668.58 494.48,668.69 495.37,668.79 496.27,668.89 497.16,668.99 498.05,669.09 498.95,669.19 499.84,669.29 500.73,669.39 501.63,669.49 502.52,669.58 503.41,669.68 504.31,669.77 505.20,669.86" fill="none" stroke="#111" stroke-width="1.15"/>
<polyline points="58.50,668.21 59.39,668.09 60.29,667.98 61.18,667.86 62.07,667.74 62.97,667.61 63.86,667.49 64.75,667.37 65.65,667.24 66.54,667.11 67.43,666.98 68.33,666.85 69.22,666.72 70.11,666.59 71.01,666.45 71.90,666.31 72.79,666.17 73.69,666.03 74.58,665.89 75.47,665.74 76.37,665.60 77.26,665.45 78.15,665.30 79.05,665.15 79.94,664.99 80.83,664.84 81.73,664.68 82.62,664.52 83.52,664.36 84.41,664.19 85.30,664.03 86.20,663.86 87.09,663.69 87.98,663.51 88.88,663.34 89.77,663.16 90.66,662.98 91.56,662.80 92.45,662.61 93.34,662.42 94.24,662.23 95.13,662.04 96.02,661.84 96.92,661.65 97.81,661.44 98.70,661.24 99.60,661.03 100.49,660.82 101.38,660.61 102.28,660.40 103.17,660.18 104.06,659.95 104.96,659.73 105.85,659.50 106.74,659.27 107.64,659.03 108.53,658.80 109.42,658.55 110.32,658.31 111.21,658.06 112.10,657.81 113.00,657.55 113.89,657.29 114.78,657.03 115.68,656.76 116.57,656.48 117.46,656.21 118.36,655.93 119.25,655.64 120.14,655.35 121.04,655.06 121.93,654.76 122.82,654.46 123.72,654.15 124.61,653.84 125.50,653.52 126.40,653.20 127.29,652.87 128.19,652.53 129.08,652.20 129.97,651.85 130.87,651.50 131.76,651.15 132.65,650.79 133.55,650.42 134.44,650.05 135.33,649.67 136.23,649.28 137.12,648.89 138.01,648.49 138.91,648.09 139.80,647.68 140.69,647.26 141.59,646.83 142.48,646.40 143.37,645.96 144.27,645.51 145.16,645.06 146.05,644.59 146.95,644.12 147.84,643.64 148.73,643.15 149.63,642.66 150.52,642.15 151.41,641.64 152.31,641.11 153.20,640.58 154.09,640.04 154.99,639.48 155.88,638.92 156.77,638.35 157.67,637.77 158.56,637.17 159.45,636.57 160.35,635.95 161.24,635.32 162.13,634.69 163.03,634.04 163.92,633.37 164.81,632.70 165.71,632.01 166.60,631.31 167.49,630.60 168.39,629.87 169.28,629.13 170.18,628.37 171.07,627.60 171.96,626.82 172.86,626.02 173.75,625.20 174.64,624.37 175.54,623.53 176.43,622.66 177.32,621.78 178.22,620.89 179.11,619.97 180.00,619.04 180.90,618.09 181.79,617.12 182.68,616.13 183.58,615.13 184.47,614.10 185.36,613.05 186.26,611.98 187.15,610.89 188.04,609.78 188.94,608.65 189.83,607.50 190.72,606.32 191.62,605.12 192.51,603.89 193.40,602.64 194.30,601.37 195.19,600.07 196.08,598.75 196.98,597.40 197.87,596.02 198.76,594.62 199.66,593.19 200.55,591.74 201.44,590.25 202.34,588.74 203.23,587.20 204.12,585.63 205.02,584.03 205.91,582.40 206.80,580.74 207.70,579.05 208.59,577.33 209.48,575.58 210.38,573.79 211.27,571.98 212.16,570.14 213.06,568.26 213.95,566.35 214.85,564.41 215.74,562.44 216.63,560.44 217.53,558.41 218.42,556.35 219.31,554.25 220.21,552.13 221.10,549.98 221.99,547.79 222.89,545.58 223.78,543.35 224.67,541.08 225.57,538.79 226.46,536.48 227.35,534.14 228.25,531.78 229.14,529.41 230.03,527.01 230.93,524.60 231.82,522.17 232.71,519.73 233.61,517.28 234.50,514.82 235.39,512.35 236.29,509.89 237.18,507.42 238.07,504.96 238.97,502.51 239.86,500.07 240.75,497.64 241.65,495.23 242.54,492.84 243.43,490.48 244.33,488.15 245.22,485.85 246.11,483.60 247.01,481.39 247.90,479.22 248.79,477.12 249.69,475.07 250.58,473.08 251.47,471.16 252.37,469.32 253.26,467.55 254.15,465.87 255.05,464.27 255.94,462.77 256.83,461.36 257.73,460.05 258.62,458.84 259.52,457.74 260.41,456.76 261.30,455.89 262.20,455.13 263.09,454.49 263.98,453.98 264.88,453.59 265.77,453.32 266.66,453.17 267.56,453.16 268.45,453.26 269.34,453.50 270.24,453.86 271.13,454.34 272.02,454.94 272.92,455.66 273.81,456.50 274.70,457.46 275.60,458.52 276.49,459.70 277.38,460.98 278.28,462.36 279.17,463.84 280.06,465.41 280.96,467.07 281.85,468.81 282.74,470.64 283.64,472.53 284.53,474.50 285.42,476.53 286.32,478.63 287.21,480.77 288.10,482.97 289.00,485.21 289.89,487.50 290.78,489.82 291.68,492.17 292.57,494.55 293.46,496.96 294.36,499.38 295.25,501.82 296.14,504.27 297.04,506.73 297.93,509.19 298.82,511.66 299.72,514.12 300.61,516.58 301.50,519.04 302.40,521.48 303.29,523.91 304.18,526.33 305.08,528.73 305.97,531.12 306.87,533.48 307.76,535.82 308.65,538.14 309.55,540.44 310.44,542.71 311.33,544.96 312.23,547.17 313.12,549.36 314.01,551.53 314.91,553.66 315.80,555.76 316.69,557.83 317.59,559.87 318.48,561.88 319.37,563.86 320.27,565.81 321.16,567.73 322.05,569.61 322.95,571.46 323.84,573.29 324.73,575.08 325.63,576.84 326.52,578.57 327.41,580.27 328.31,581.93 329.20,583.57 330.09,585.18 330.99,586.76 331.88,588.31 332.77,589.83 333.67,591.32 334.56,592.79 335.45,594.22 336.35,595.63 337.24,597.02 338.13,598.37 339.03,599.70 339.92,601.01 340.81,602.29 341.71,603.54 342.60,604.77 343.49,605.98 344.39,607.17 345.28,608.33 346.17,609.47 347.07,610.58 347.96,611.68 348.85,612.75 349.75,613.81 350.64,614.84 351.54,615.85 352.43,616.85 353.32,617.82 354.22,618.78 355.11,619.71 356.00,620.63 356.90,621.53 357.79,622.42 358.68,623.29 359.58,624.14 360.47,624.97 361.36,625.79 362.26,626.60 363.15,627.38 364.04,628.16 364.94,628.92 365.83,629.66 366.72,630.39 367.62,631.11 368.51,631.81 369.40,632.51 370.30,633.18 371.19,633.85 372.08,634.50 372.98,635.15 373.87,635.78 374.76,636.40 375.66,637.00 376.55,637.60 377.44,638.19 378.34,638.76 379.23,639.33 380.12,639.88 381.02,640.43 381.91,640.96 382.80,641.49 383.70,642.01 384.59,642.51 385.48,643.01 386.38,643.50 387.27,643.99 388.16,644.46 389.06,644.93 389.95,645.38 390.84,645.83 391.74,646.28 392.63,646.71 393.52,647.14 394.42,647.56 395.31,647.97 396.21,648.38 397.10,648.78 397.99,649.17 398.89,649.56 399.78,649.94 400.67,650.32 401.57,650.68 402.46,651.05 403.35,651.40 404.25,651.75 405.14,652.10 406.03,652.44 406.93,652.77 407.82,653.10 408.71,653.43 409.61,653.75 410.50,654.06 411.39,654.37 412.29,654.68 413.18,654.98 414.07,655.27 414.97,655.56 415.86,655.85 416.75,656.13 417.65,656.41 418.54,656.68 419.43,656.95 420.33,657.22 421.22,657.48 422.11,657.73 423.01,657.99 423.90,658.24 424.79,658.49 425.69,658.73 426.58,658.97 427.47,659.20 428.37,659.44 429.26,659.67 430.15,659.89 431.05,660.11 431.94,660.33 432.83,660.55 433.73,660.76 434.62,660.97 435.51,661.18 436.41,661.39 437.30,661.59 438.20,661.79 439.09,661.98 439.98,662.18 440.88,662.37 441.77,662.56 442.66,662.74 443.56,662.93 444.45,663.11 445.34,663.29 446.24,663.46 447.13,663.64 448.02,663.81 448.92,663.98 449.81,664.15 450.70,664.31 451.60,664.47 452.49,664.63 453.38,664.79 454.28,664.95 455.17,665.10 456.06,665.26 456.96,665.41 457.85,665.56 458.74,665.70 459.64,665.85 460.53,665.99 461.42,666.13 462.32,666.27 463.21,666.41 464.10,666.55 465.00,666.68 465.89,666.82 466.78,666.95 467.68,667.08 468.57,667.20 469.46,667.33 470.36,667.46 471.25,667.58 472.14,667.70 473.04,667.82 473.93,667.94 474.82,668.06 475.72,668.18 476.61,668.29 477.50,668.41 478.40,668.52 479.29,668.63 480.18,668.74 481.08,668.85 481.97,668.96 482.87,669.06 483.76,669.17 484.65,669.27 485.55,669.37 486.44,669.47 487.33,669.57 488.23,669.67 489.12,669.77 490.01,669.87 490.91,669.96 491.80,670.06 492.69,670.15 493.59,670.25 494.48,670.34 495.37,670.43 496.27,670.52 497.16,670.61 498.05,670.70 498.95,670.78 499.84,670.87 500.73,670.95 501.63,671.04 502.52,671.12 503.41,671.20 504.31,671.28 505.20,671.37" fill="none" stroke="#111" stroke-width="1.15"/>
<polyline points="58.50,670.31 59.39,670.21 60.29,670.11 61.18,670.01 62.07,669.91 62.97,669.81 63.86,669.70 64.75,669.60 65.65,669.49 66.54,669.38 67.43,669.27 68.33,669.16 69.22,669.05 70.11,668.94 71.01,668.82 71.90,668.71 72.79,668.59 73.69,668.47 74.58,668.35 75.47,668.23 76.37,668.11 77.26,667.98 78.15,667.86 79.05,667.73 79.94,667.60 80.83,667.47 81.73,667.34 82.62,667.20 83.52,667.06 84.41,666.93 85.30,666.79 86.20,666.65 87.09,666.50 87.98,666.36 88.88,666.21 89.77,666.06 90.66,665.91 91.56,665.75 92.45,665.60 93.34,665.44 94.24,665.28 95.13,665.12 96.02,664.96 96.92,664.79 97.81,664.62 98.70,664.45 99.60,664.28 100.49,664.10 101.38,663.92 102.28,663.74 103.17,663.56 104.06,663.37 104.96,663.19 105.85,662.99 106.74,662.80 107.64,662.60 108.53,662.40 109.42,662.20 110.32,662.00 111.21,661.79 112.10,661.58 113.00,661.36 113.89,661.14 114.78,660.92 115.68,660.70 116.57,660.47 117.46,660.24 118.36,660.01 119.25,659.77 120.14,659.53 121.04,659.28 121.93,659.03 122.82,658.78 123.72,658.52 124.61,658.26 125.50,658.00 126.40,657.73 127.29,657.45 128.19,657.18 129.08,656.89 129.97,656.61 130.87,656.32 131.76,656.02 132.65,655.72 133.55,655.41 134.44,655.10 135.33,654.79 136.23,654.47 137.12,654.14 138.01,653.81 138.91,653.47 139.80,653.13 140.69,652.78 141.59,652.43 142.48,652.07 143.37,651.70 144.27,651.33 145.16,650.95 146.05,650.57 146.95,650.17 147.84,649.77 148.73,649.37 149.63,648.96 150.52,648.54 151.41,648.11 152.31,647.67 153.20,647.23 154.09,646.78 154.99,646.32 155.88,645.85 156.77,645.38 157.67,644.89 158.56,644.40 159.45,643.90 160.35,643.39 161.24,642.87 162.13,642.34 163.03,641.80 163.92,641.25 164.81,640.69 165.71,640.12 166.60,639.53 167.49,638.94 168.39,638.34 169.28,637.72 170.18,637.10 171.07,636.46 171.96,635.81 172.86,635.14 173.75,634.47 174.64,633.78 175.54,633.07 176.43,632.36 177.32,631.63 178.22,630.88 179.11,630.12 180.00,629.35 180.90,628.56 181.79,627.75 182.68,626.93 183.58,626.09 184.47,625.24 185.36,624.36 186.26,623.47 187.15,622.57 188.04,621.64 188.94,620.70 189.83,619.74 190.72,618.75 191.62,617.75 192.51,616.73 193.40,615.69 194.30,614.62 195.19,613.54 196.08,612.43 196.98,611.30 197.87,610.15 198.76,608.98 199.66,607.78 200.55,606.55 201.44,605.31 202.34,604.04 203.23,602.74 204.12,601.42 205.02,600.07 205.91,598.69 206.80,597.29 207.70,595.86 208.59,594.40 209.48,592.92 210.38,591.40 211.27,589.86 212.16,588.29 213.06,586.69 213.95,585.06 214.85,583.40 215.74,581.71 216.63,579.99 217.53,578.24 218.42,576.46 219.31,574.65 220.21,572.81 221.10,570.94 221.99,569.04 222.89,567.11 223.78,565.15 224.67,563.16 225.57,561.14 226.46,559.10 227.35,557.02 228.25,554.93 229.14,552.80 230.03,550.65 230.93,548.48 231.82,546.28 232.71,544.07 233.61,541.83 234.50,539.58 235.39,537.31 236.29,535.03 237.18,532.73 238.07,530.43 238.97,528.11 239.86,525.79 240.75,523.48 241.65,521.16 242.54,518.84 243.43,516.53 244.33,514.24 245.22,511.96 246.11,509.69 247.01,507.45 247.90,505.24 248.79,503.05 249.69,500.91 250.58,498.80 251.47,496.73 252.37,494.71 253.26,492.75 254.15,490.85 255.05,489.00 255.94,487.23 256.83,485.53 257.73,483.90 258.62,482.36 259.52,480.91 260.41,479.54 261.30,478.27 262.20,477.09 263.09,476.02 263.98,475.06 264.88,474.20 265.77,473.45 266.66,472.82 267.56,472.31 268.45,471.91 269.34,471.63 270.24,471.47 271.13,471.44 272.02,471.52 272.92,471.72 273.81,472.05 274.70,472.49 275.60,473.05 276.49,473.72 277.38,474.51 278.28,475.41 279.17,476.41 280.06,477.52 280.96,478.73 281.85,480.04 282.74,481.44 283.64,482.93 284.53,484.50 285.42,486.16 286.32,487.89 287.21,489.69 288.10,491.55 289.00,493.48 289.89,495.46 290.78,497.50 291.68,499.58 292.57,501.71 293.46,503.87 294.36,506.07 295.25,508.29 296.14,510.54 297.04,512.81 297.93,515.10 298.82,517.40 299.72,519.71 300.61,522.03 301.50,524.34 302.40,526.66 303.29,528.98 304.18,531.29 305.08,533.59 305.97,535.88 306.87,538.16 307.76,540.43 308.65,542.67 309.55,544.90 310.44,547.11 311.33,549.30 312.23,551.46 313.12,553.60 314.01,555.72 314.91,557.80 315.80,559.87 316.69,561.90 317.59,563.91 318.48,565.88 319.37,567.83 320.27,569.75 321.16,571.64 322.05,573.50 322.95,575.33 323.84,577.13 324.73,578.90 325.63,580.64 326.52,582.34 327.41,584.02 328.31,585.67 329.20,587.29 330.09,588.88 330.99,590.44 331.88,591.97 332.77,593.48 333.67,594.95 334.56,596.40 335.45,597.82 336.35,599.21 337.24,600.57 338.13,601.91 339.03,603.23 339.92,604.52 340.81,605.78 341.71,607.02 342.60,608.23 343.49,609.42 344.39,610.59 345.28,611.73 346.17,612.85 347.07,613.95 347.96,615.03 348.85,616.08 349.75,617.12 350.64,618.13 351.54,619.12 352.43,620.10 353.32,621.06 354.22,621.99 355.11,622.91 356.00,623.81 356.90,624.69 357.79,625.56 358.68,626.41 359.58,627.24 360.47,628.05 361.36,628.85 362.26,629.64 363.15,630.41 364.04,631.16 364.94,631.90 365.83,632.63 366.72,633.34 367.62,634.04 368.51,634.72 369.40,635.39 370.30,636.05 371.19,636.70 372.08,637.33 372.98,637.95 373.87,638.57 374.76,639.17 375.66,639.75 376.55,640.33 377.44,640.90 378.34,641.45 379.23,642.00 380.12,642.54 381.02,643.06 381.91,643.58 382.80,644.09 383.70,644.59 384.59,645.08 385.48,645.56 386.38,646.03 387.27,646.49 388.16,646.95 389.06,647.40 389.95,647.84 390.84,648.27 391.74,648.69 392.63,649.11 393.52,649.52 394.42,649.92 395.31,650.32 396.21,650.71 397.10,651.09 397.99,651.47 398.89,651.84 399.78,652.20 400.67,652.56 401.57,652.91 402.46,653.26 403.35,653.60 404.25,653.94 405.14,654.26 406.03,654.59 406.93,654.91 407.82,655.22 408.71,655.53 409.61,655.83 410.50,656.13 411.39,656.43 412.29,656.72 413.18,657.00 414.07,657.28 414.97,657.56 415.86,657.83 416.75,658.10 417.65,658.36 418.54,658.62 419.43,658.87 420.33,659.13 421.22,659.37 422.11,659.62 423.01,659.86 423.90,660.09 424.79,660.33 425.69,660.56 426.58,660.78 427.47,661.01 428.37,661.23 429.26,661.44 430.15,661.66 431.05,661.87 431.94,662.07 432.83,662.28 433.73,662.48 434.62,662.68 435.51,662.87 436.41,663.07 437.30,663.26 438.20,663.44 439.09,663.63 439.98,663.81 440.88,663.99 441.77,664.17 442.66,664.34 443.56,664.51 444.45,664.68 445.34,664.85 446.24,665.02 447.13,665.18 448.02,665.34 448.92,665.50 449.81,665.66 450.70,665.81 451.60,665.96 452.49,666.12 453.38,666.26 454.28,666.41 455.17,666.56 456.06,666.70 456.96,666.84 457.85,666.98 458.74,667.12 459.64,667.25 460.53,667.39 461.42,667.52 462.32,667.65 463.21,667.78 464.10,667.90 465.00,668.03 465.89,668.15 466.78,668.28 467.68,668.40 468.57,668.52 469.46,668.64 470.36,668.75 471.25,668.87 472.14,668.98 473.04,669.09 473.93,669.21 474.82,669.31 475.72,669.42 476.61,669.53 477.50,669.64 478.40,669.74 479.29,669.84 480.18,669.95 481.08,670.05 481.97,670.15 482.87,670.25 483.76,670.34 484.65,670.44 485.55,670.54 486.44,670.63 487.33,670.72 488.23,670.81 489.12,670.91 490.01,671.00 490.91,671.08 491.80,671.17 492.69,671.26 493.59,671.35 494.48,671.43 495.37,671.51 496.27,671.60 497.16,671.68 498.05,671.76 498.95,671.84 499.84,671.92 500.73,672.00 501.63,672.08 502.52,672.16 503.41,672.23 504.31,672.31 505.20,672.38" fill="none" stroke="#111" stroke-width="1.15"/>
<circle cx="58.5" cy="664.5" r="3.15" fill="#000"/>
<circle cx="58.5" cy="666.0" r="3.15" fill="#000"/>
<circle cx="58.5" cy="667.5" r="3.15" fill="#000"/>
<circle cx="58.5" cy="669.0" r="3.15" fill="#000"/>
<circle cx="73.6" cy="656.9" r="3.15" fill="#000"/>
<circle cx="73.6" cy="660.0" r="3.15" fill="#000"/>
<circle cx="73.6" cy="661.5" r="3.15" fill="#000"/>
<circle cx="73.6" cy="662.5" r="3.15" fill="#000"/>
<circle cx="88.6" cy="654.9" r="3.15" fill="#000"/>
<circle cx="88.6" cy="659.5" r="3.15" fill="#000"/>
<circle cx="88.6" cy="661.6" r="3.15" fill="#000"/>
<circle cx="88.6" cy="665.0" r="3.15" fill="#000"/>
<circle cx="103.7" cy="656.2" r="3.15" fill="#000"/>
<circle cx="103.7" cy="657.5" r="3.15" fill="#000"/>
<circle cx="103.7" cy="659.0" r="3.15" fill="#000"/>
<circle cx="103.7" cy="660.3" r="3.15" fill="#000"/>
<circle cx="118.8" cy="648.2" r="3.15" fill="#000"/>
<circle cx="118.8" cy="652.2" r="3.15" fill="#000"/>
<circle cx="118.8" cy="656.2" r="3.15" fill="#000"/>
<circle cx="118.8" cy="658.9" r="3.15" fill="#000"/>
<circle cx="133.8" cy="643.1" r="3.15" fill="#000"/>
<circle cx="133.8" cy="645.0" r="3.15" fill="#000"/>
<circle cx="133.8" cy="647.1" r="3.15" fill="#000"/>
<circle cx="133.8" cy="652.5" r="3.15" fill="#000"/>
<circle cx="148.9" cy="639.0" r="3.15" fill="#000"/>
<circle cx="148.9" cy="640.5" r="3.15" fill="#000"/>
<circle cx="148.9" cy="642.0" r="3.15" fill="#000"/>
<circle cx="148.9" cy="643.1" r="3.15" fill="#000"/>
<circle cx="164.0" cy="623.1" r="3.15" fill="#000"/>
<circle cx="164.0" cy="626.0" r="3.15" fill="#000"/>
<circle cx="164.0" cy="628.3" r="3.15" fill="#000"/>
<circle cx="164.0" cy="636.6" r="3.15" fill="#000"/>
<circle cx="179.1" cy="616.8" r="3.15" fill="#000"/>
<circle cx="179.1" cy="618.5" r="3.15" fill="#000"/>
<circle cx="179.1" cy="620.9" r="3.15" fill="#000"/>
<circle cx="179.1" cy="632.3" r="3.15" fill="#000"/>
<circle cx="194.1" cy="592.0" r="3.15" fill="#000"/>
<circle cx="194.1" cy="599.0" r="3.15" fill="#000"/>
<circle cx="194.1" cy="602.6" r="3.15" fill="#000"/>
<circle cx="194.1" cy="618.5" r="3.15" fill="#000"/>
<circle cx="209.2" cy="563.7" r="3.15" fill="#000"/>
<circle cx="209.2" cy="565.8" r="3.15" fill="#000"/>
<circle cx="209.2" cy="573.9" r="3.15" fill="#000"/>
<circle cx="209.2" cy="582.8" r="3.15" fill="#000"/>
<circle cx="224.3" cy="522.6" r="3.15" fill="#000"/>
<circle cx="224.3" cy="532.2" r="3.15" fill="#000"/>
<circle cx="224.3" cy="532.2" r="3.15" fill="#000"/>
<circle cx="224.3" cy="567.2" r="3.15" fill="#000"/>
<circle cx="239.3" cy="450.0" r="3.15" fill="#000"/>
<circle cx="239.3" cy="494.7" r="3.15" fill="#000"/>
<circle cx="239.3" cy="511.2" r="3.15" fill="#000"/>
<circle cx="239.3" cy="516.0" r="3.15" fill="#000"/>
<circle cx="254.4" cy="421.0" r="3.15" fill="#000"/>
<circle cx="254.4" cy="442.9" r="3.15" fill="#000"/>
<circle cx="254.4" cy="452.4" r="3.15" fill="#000"/>
<circle cx="254.4" cy="488.6" r="3.15" fill="#000"/>
<circle cx="269.5" cy="393.3" r="3.15" fill="#000"/>
<circle cx="269.5" cy="424.8" r="3.15" fill="#000"/>
<circle cx="269.5" cy="448.2" r="3.15" fill="#000"/>
<circle cx="269.5" cy="466.0" r="3.15" fill="#000"/>
<circle cx="284.6" cy="402.3" r="3.15" fill="#000"/>
<circle cx="284.6" cy="437.2" r="3.15" fill="#000"/>
<circle cx="284.6" cy="465.3" r="3.15" fill="#000"/>
<circle cx="284.6" cy="473.1" r="3.15" fill="#000"/>
<circle cx="299.6" cy="441.0" r="3.15" fill="#000"/>
<circle cx="299.6" cy="482.4" r="3.15" fill="#000"/>
<circle cx="299.6" cy="503.3" r="3.15" fill="#000"/>
<circle cx="299.6" cy="513.8" r="3.15" fill="#000"/>
<circle cx="314.7" cy="503.3" r="3.15" fill="#000"/>
<circle cx="314.7" cy="532.6" r="3.15" fill="#000"/>
<circle cx="314.7" cy="546.7" r="3.15" fill="#000"/>
<circle cx="314.7" cy="556.8" r="3.15" fill="#000"/>
<circle cx="329.8" cy="542.6" r="3.15" fill="#000"/>
<circle cx="329.8" cy="560.8" r="3.15" fill="#000"/>
<circle cx="329.8" cy="576.3" r="3.15" fill="#000"/>
<circle cx="329.8" cy="581.6" r="3.15" fill="#000"/>
<circle cx="344.8" cy="583.9" r="3.15" fill="#000"/>
<circle cx="344.8" cy="600.7" r="3.15" fill="#000"/>
<circle cx="344.8" cy="609.2" r="3.15" fill="#000"/>
<circle cx="344.8" cy="617.5" r="3.15" fill="#000"/>
<circle cx="359.9" cy="605.2" r="3.15" fill="#000"/>
<circle cx="359.9" cy="620.5" r="3.15" fill="#000"/>
<circle cx="359.9" cy="621.5" r="3.15" fill="#000"/>
<circle cx="359.9" cy="628.7" r="3.15" fill="#000"/>
<circle cx="375.0" cy="617.0" r="3.15" fill="#000"/>
<circle cx="375.0" cy="625.8" r="3.15" fill="#000"/>
<circle cx="375.0" cy="626.3" r="3.15" fill="#000"/>
<circle cx="375.0" cy="636.1" r="3.15" fill="#000"/>
<circle cx="390.0" cy="639.3" r="3.15" fill="#000"/>
<circle cx="390.0" cy="641.8" r="3.15" fill="#000"/>
<circle cx="390.0" cy="644.5" r="3.15" fill="#000"/>
<circle cx="390.0" cy="647.0" r="3.15" fill="#000"/>
<circle cx="405.1" cy="650.0" r="3.15" fill="#000"/>
<circle cx="405.1" cy="651.2" r="3.15" fill="#000"/>
<circle cx="405.1" cy="652.2" r="3.15" fill="#000"/>
<circle cx="405.1" cy="653.3" r="3.15" fill="#000"/>
<circle cx="420.2" cy="655.0" r="3.15" fill="#000"/>
<circle cx="420.2" cy="657.2" r="3.15" fill="#000"/>
<circle cx="420.2" cy="659.4" r="3.15" fill="#000"/>
<circle cx="420.2" cy="661.5" r="3.15" fill="#000"/>
<circle cx="435.2" cy="655.5" r="3.15" fill="#000"/>
<circle cx="435.2" cy="656.8" r="3.15" fill="#000"/>
<circle cx="435.2" cy="658.2" r="3.15" fill="#000"/>
<circle cx="435.2" cy="659.5" r="3.15" fill="#000"/>
<circle cx="450.3" cy="659.3" r="3.15" fill="#000"/>
<circle cx="450.3" cy="661.7" r="3.15" fill="#000"/>
<circle cx="450.3" cy="664.1" r="3.15" fill="#000"/>
<circle cx="450.3" cy="666.5" r="3.15" fill="#000"/>
<circle cx="465.4" cy="661.8" r="3.15" fill="#000"/>
<circle cx="465.4" cy="663.8" r="3.15" fill="#000"/>
<circle cx="465.4" cy="665.8" r="3.15" fill="#000"/>
<circle cx="465.4" cy="667.8" r="3.15" fill="#000"/>
<circle cx="480.5" cy="666.8" r="3.15" fill="#000"/>
<circle cx="480.5" cy="667.7" r="3.15" fill="#000"/>
<circle cx="480.5" cy="668.6" r="3.15" fill="#000"/>
<circle cx="480.5" cy="669.5" r="3.15" fill="#000"/>
<circle cx="495.5" cy="669.3" r="3.15" fill="#000"/>
<circle cx="495.5" cy="670.4" r="3.15" fill="#000"/>
<circle cx="495.5" cy="671.4" r="3.15" fill="#000"/>
<circle cx="495.5" cy="672.5" r="3.15" fill="#000"/>
</g>
<line x1="271.4" y1="395" x2="271.4" y2="668" stroke="#1a1a1a" stroke-width="1.4" stroke-dasharray="5.3 2.7 1.1 2.9"/>
<line x1="202.7" y1="394.0" x2="269" y2="394.0" stroke="#1a1a1a" stroke-width="1.4" stroke-dasharray="5.3 4.6"/>
<line x1="202.7" y1="427.5" x2="268" y2="427.5" stroke="#1a1a1a" stroke-width="1.4" stroke-dasharray="5.3 4.6"/>
<line x1="202.7" y1="453.9" x2="268" y2="453.9" stroke="#1a1a1a" stroke-width="1.4" stroke-dasharray="5.3 4.6"/>
<line x1="202.7" y1="471.7" x2="270" y2="471.7" stroke="#1a1a1a" stroke-width="1.4" stroke-dasharray="5.3 4.6"/>
<path d="M58.5,379.5 H505.2 V682.6" fill="none" stroke="#1a1a1a" stroke-width="1.2"/>
<line x1="58.5" y1="378.9" x2="58.5" y2="683.35" stroke="#1a1a1a" stroke-width="1.5"/>
<line x1="57.75" y1="682.6" x2="505.8" y2="682.6" stroke="#1a1a1a" stroke-width="1.5"/>
<line x1="58.50" y1="682.6" x2="58.50" y2="687.8000000000001" stroke="#1a1a1a" stroke-width="1.3"/>
<line x1="58.50" y1="379.5" x2="58.50" y2="384.7" stroke="#1a1a1a" stroke-width="1.35"/>
<text class="r" x="58.50" y="704.6" font-size="16.5" text-anchor="middle">958</text>
<line x1="86.42" y1="682.6" x2="86.42" y2="685.8000000000001" stroke="#1a1a1a" stroke-width="1.3"/>
<line x1="86.42" y1="379.5" x2="86.42" y2="382.7" stroke="#1a1a1a" stroke-width="1.35"/>
<line x1="114.34" y1="682.6" x2="114.34" y2="687.8000000000001" stroke="#1a1a1a" stroke-width="1.3"/>
<line x1="114.34" y1="379.5" x2="114.34" y2="384.7" stroke="#1a1a1a" stroke-width="1.35"/>
<text class="r" x="114.34" y="704.6" font-size="16.5" text-anchor="middle">960</text>
<line x1="142.26" y1="682.6" x2="142.26" y2="685.8000000000001" stroke="#1a1a1a" stroke-width="1.3"/>
<line x1="142.26" y1="379.5" x2="142.26" y2="382.7" stroke="#1a1a1a" stroke-width="1.35"/>
<line x1="170.18" y1="682.6" x2="170.18" y2="687.8000000000001" stroke="#1a1a1a" stroke-width="1.3"/>
<line x1="170.18" y1="379.5" x2="170.18" y2="384.7" stroke="#1a1a1a" stroke-width="1.35"/>
<text class="r" x="170.18" y="704.6" font-size="16.5" text-anchor="middle">962</text>
<line x1="198.09" y1="682.6" x2="198.09" y2="685.8000000000001" stroke="#1a1a1a" stroke-width="1.3"/>
<line x1="198.09" y1="379.5" x2="198.09" y2="382.7" stroke="#1a1a1a" stroke-width="1.35"/>
<line x1="226.01" y1="682.6" x2="226.01" y2="687.8000000000001" stroke="#1a1a1a" stroke-width="1.3"/>
<line x1="226.01" y1="379.5" x2="226.01" y2="384.7" stroke="#1a1a1a" stroke-width="1.35"/>
<text class="r" x="226.01" y="704.6" font-size="16.5" text-anchor="middle">964</text>
<line x1="253.93" y1="682.6" x2="253.93" y2="685.8000000000001" stroke="#1a1a1a" stroke-width="1.3"/>
<line x1="253.93" y1="379.5" x2="253.93" y2="382.7" stroke="#1a1a1a" stroke-width="1.35"/>
<line x1="281.85" y1="682.6" x2="281.85" y2="687.8000000000001" stroke="#1a1a1a" stroke-width="1.3"/>
<line x1="281.85" y1="379.5" x2="281.85" y2="384.7" stroke="#1a1a1a" stroke-width="1.35"/>
<text class="r" x="281.85" y="704.6" font-size="16.5" text-anchor="middle">966</text>
<line x1="309.77" y1="682.6" x2="309.77" y2="685.8000000000001" stroke="#1a1a1a" stroke-width="1.3"/>
<line x1="309.77" y1="379.5" x2="309.77" y2="382.7" stroke="#1a1a1a" stroke-width="1.35"/>
<line x1="337.69" y1="682.6" x2="337.69" y2="687.8000000000001" stroke="#1a1a1a" stroke-width="1.3"/>
<line x1="337.69" y1="379.5" x2="337.69" y2="384.7" stroke="#1a1a1a" stroke-width="1.35"/>
<text class="r" x="337.69" y="704.6" font-size="16.5" text-anchor="middle">968</text>
<line x1="365.61" y1="682.6" x2="365.61" y2="685.8000000000001" stroke="#1a1a1a" stroke-width="1.3"/>
<line x1="365.61" y1="379.5" x2="365.61" y2="382.7" stroke="#1a1a1a" stroke-width="1.35"/>
<line x1="393.52" y1="682.6" x2="393.52" y2="687.8000000000001" stroke="#1a1a1a" stroke-width="1.3"/>
<line x1="393.52" y1="379.5" x2="393.52" y2="384.7" stroke="#1a1a1a" stroke-width="1.35"/>
<text class="r" x="393.52" y="704.6" font-size="16.5" text-anchor="middle">970</text>
<line x1="421.44" y1="682.6" x2="421.44" y2="685.8000000000001" stroke="#1a1a1a" stroke-width="1.3"/>
<line x1="421.44" y1="379.5" x2="421.44" y2="382.7" stroke="#1a1a1a" stroke-width="1.35"/>
<line x1="449.36" y1="682.6" x2="449.36" y2="687.8000000000001" stroke="#1a1a1a" stroke-width="1.3"/>
<line x1="449.36" y1="379.5" x2="449.36" y2="384.7" stroke="#1a1a1a" stroke-width="1.35"/>
<text class="r" x="449.36" y="704.6" font-size="16.5" text-anchor="middle">972</text>
<line x1="477.28" y1="682.6" x2="477.28" y2="685.8000000000001" stroke="#1a1a1a" stroke-width="1.3"/>
<line x1="477.28" y1="379.5" x2="477.28" y2="382.7" stroke="#1a1a1a" stroke-width="1.35"/>
<line x1="505.20" y1="682.6" x2="505.20" y2="687.8000000000001" stroke="#1a1a1a" stroke-width="1.3"/>
<line x1="505.20" y1="379.5" x2="505.20" y2="384.7" stroke="#1a1a1a" stroke-width="1.35"/>
<text class="r" x="505.20" y="704.6" font-size="16.5" text-anchor="middle">974</text>
<line x1="53.3" y1="682.60" x2="58.5" y2="682.60" stroke="#1a1a1a" stroke-width="1.3"/>
<text class="r" x="49.0" y="687.60" font-size="16.5" text-anchor="end">0.0</text>
<line x1="55.3" y1="653.76" x2="58.5" y2="653.76" stroke="#1a1a1a" stroke-width="1.3"/>
<line x1="53.3" y1="624.92" x2="58.5" y2="624.92" stroke="#1a1a1a" stroke-width="1.3"/>
<text class="r" x="49.0" y="629.92" font-size="16.5" text-anchor="end">0.2</text>
<line x1="55.3" y1="596.08" x2="58.5" y2="596.08" stroke="#1a1a1a" stroke-width="1.3"/>
<line x1="53.3" y1="567.24" x2="58.5" y2="567.24" stroke="#1a1a1a" stroke-width="1.3"/>
<text class="r" x="49.0" y="572.24" font-size="16.5" text-anchor="end">0.4</text>
<line x1="55.3" y1="538.40" x2="58.5" y2="538.40" stroke="#1a1a1a" stroke-width="1.3"/>
<line x1="53.3" y1="509.56" x2="58.5" y2="509.56" stroke="#1a1a1a" stroke-width="1.3"/>
<text class="r" x="49.0" y="514.56" font-size="16.5" text-anchor="end">0.6</text>
<line x1="55.3" y1="480.72" x2="58.5" y2="480.72" stroke="#1a1a1a" stroke-width="1.3"/>
<line x1="53.3" y1="451.88" x2="58.5" y2="451.88" stroke="#1a1a1a" stroke-width="1.3"/>
<text class="r" x="49.0" y="456.88" font-size="16.5" text-anchor="end">0.8</text>
<line x1="55.3" y1="423.04" x2="58.5" y2="423.04" stroke="#1a1a1a" stroke-width="1.3"/>
<line x1="53.3" y1="394.20" x2="58.5" y2="394.20" stroke="#1a1a1a" stroke-width="1.3"/>
<text class="r" x="49.0" y="399.20" font-size="16.5" text-anchor="end">1.0</text>
<text class="b" x="70.7" y="407.5" font-size="18.9" textLength="24.0" lengthAdjust="spacingAndGlyphs">(b)</text>
<text class="b" x="423.4" y="408.5" font-size="16.9" textLength="59.2" lengthAdjust="spacingAndGlyphs">4H-SiC</text>
<text class="r" x="402.6" y="428.5" font-size="16.8" style="font-family:'Liberation Serif',serif;stroke-width:0.5">λ</text>
<text class="b" x="414.8" y="428.5" font-size="14.7" textLength="67.7" lengthAdjust="spacingAndGlyphs">= 266 nm</text>
<text class="r" x="387.1" y="494.20000000000005" font-size="16.3" textLength="97.4" lengthAdjust="spacingAndGlyphs">experimental</text>
<text class="r" x="387.3" y="514.7" font-size="16.3" textLength="74.4" lengthAdjust="spacingAndGlyphs">Lorentz fit</text>
<circle cx="366.5" cy="489.6" r="3.15" fill="#000"/>
<line x1="350.4" y1="509.90000000000003" x2="382.7" y2="509.90000000000003" stroke="#111" stroke-width="1.3"/>
<text class="b" transform="translate(193.9,729.70) scale(1.105,1)" font-size="17.6">Raman shift</text>
<text class="b" transform="translate(314.9,729.70) scale(1.124,1)" font-size="17.6">(cm</text>
<text class="b" x="350.2" y="722.90" font-size="13.3">-1</text>
<text class="b" x="363.2" y="729.70" font-size="17.6">)</text>
<text class="b" transform="translate(14.8,543.7) rotate(-90)" font-size="18.8" text-anchor="middle" textLength="201" lengthAdjust="spacingAndGlyphs">Intensity - normalized</text>
<text class="r" x="111.8" y="554.5" font-size="16.3">A<tspan font-size="13" dy="4.7">1</tspan><tspan dy="-4.7" dx="1.2">(LO)</tspan></text>
<text class="r" x="199.0" y="400.4" font-size="16.5" text-anchor="end">virgin</text>
<text class="r" x="199.0" y="434.6" font-size="16.5" text-anchor="end">1800<tspan font-size="13.6" dy="-3.9" dx="-0.6">o</tspan><tspan dy="3.9">C</tspan></text>
<text class="r" x="199.0" y="460.8" font-size="16.5" text-anchor="end">1700<tspan font-size="13.6" dy="-3.9" dx="-0.6">o</tspan><tspan dy="3.9">C</tspan></text>
<text class="r" x="199.0" y="478.9" font-size="16.5" text-anchor="end">1600<tspan font-size="13.6" dy="-3.9" dx="-0.6">o</tspan><tspan dy="3.9">C</tspan></text>
</svg></body></html>
